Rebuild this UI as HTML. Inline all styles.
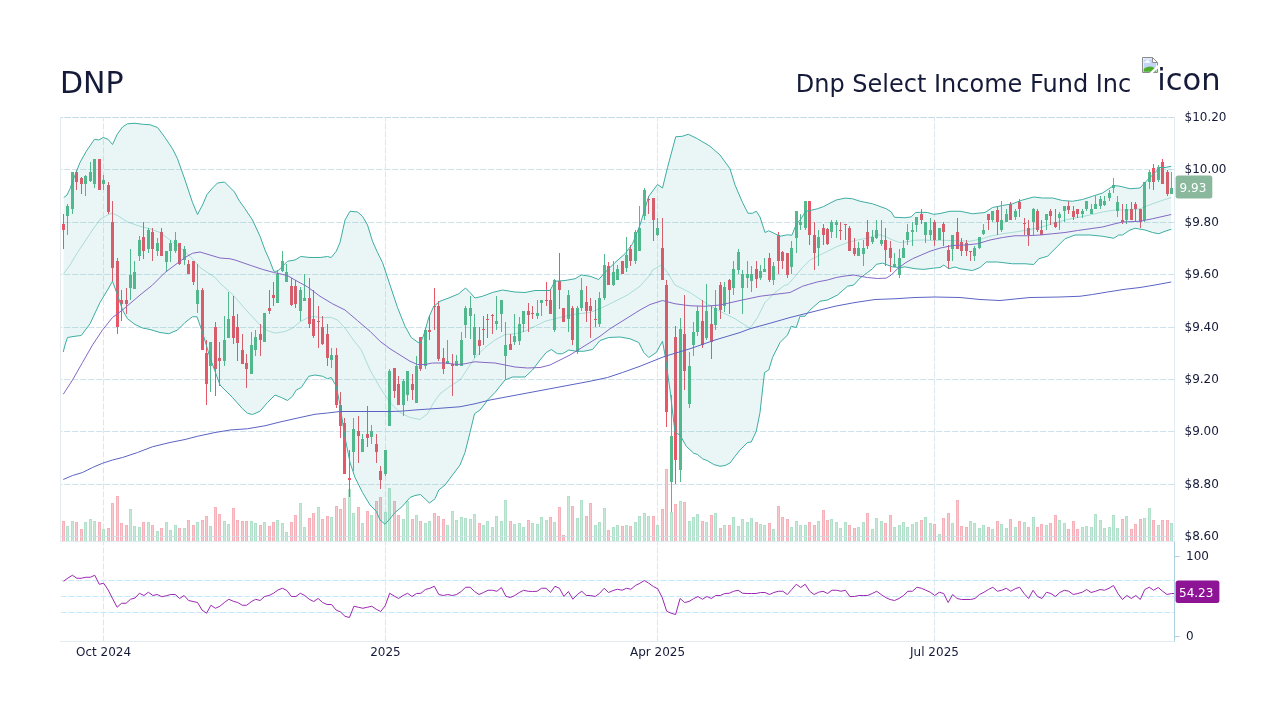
<!DOCTYPE html>
<html lang="en"><head><meta charset="utf-8"><title>DNP</title>
<style>
html,body{margin:0;padding:0;background:#fff;}
body{width:1280px;height:720px;position:relative;overflow:hidden;font-family:"DejaVu Sans","Liberation Sans",sans-serif;color:#151a38;}
#bi{position:absolute;left:1142px;top:57px;}
#wrap{position:absolute;left:0;top:0;width:1280px;height:720px;will-change:transform;}
svg text{font-family:"DejaVu Sans","Liberation Sans",sans-serif;font-size:12px;fill:#151a38;}
</style></head><body><div id="wrap">
<svg id="bi" width="17" height="17" viewBox="0 0 17 17">
<path d="M0.5 0.5 H10.5 L15.5 5.5 V15.5 H0.5 Z" fill="#fff" stroke="#8c8c8c"/>
<path d="M1.6 1.6 H10 V6 H14.4 V14.8 H1.6 Z" fill="#c3d5f6"/>
<path d="M1.7 1.7 H10 V3 H1.7 Z" fill="#dbe6fa"/>
<path d="M2.2 5.7 Q2.1 4.7 3.5 4.5 Q4.2 2.9 5.6 2.9 Q6.9 3 7.3 4.3 Q8.3 4.5 8.1 5.7 Z" fill="#fff"/>
<clipPath id="cp"><rect x="1.6" y="1.6" width="12.8" height="13.2"/></clipPath><ellipse cx="7.9" cy="15.6" rx="7.4" ry="6.1" fill="#4fae2e" clip-path="url(#cp)"/>
<path d="M10.5 0.5 L15.5 5.5 H10.5 Z" fill="#fff"/>
<path d="M10.5 0.5 V5.5 H15.5 M10.5 0.5 L15.5 5.5" fill="none" stroke="#8c8c8c"/>
<path d="M6.9 16.4 L16.4 7.5 V11 L10.3 16.4 Z" fill="#fff"/>
</svg>
<svg width="1280" height="720" viewBox="0 0 1280 720" style="position:absolute;left:0;top:0">
<text x="60" y="92.75" style="font-size:30px">DNP</text>
<text x="795.8" y="91.9" style="font-size:24px">Dnp Select Income Fund Inc</text>
<text x="1157.3" y="89.9" style="font-size:30.5px">icon</text>

<g stroke="#cfe2eb" stroke-width="1" stroke-dasharray="6.2 1.8" stroke-dashoffset="4.8" fill="none">
<path d="M61 117.5 H1174" stroke="#c6dce7" stroke-dasharray="6.8 1.2"/>
<path d="M61 169.5 H1174"/>
<path d="M61 222.5 H1174"/>
<path d="M61 274.5 H1174"/>
<path d="M61 327.5 H1174"/>
<path d="M61 379.5 H1174"/>
<path d="M61 431.5 H1174"/>
<path d="M61 484.5 H1174"/>
<path d="M61 536.5 H1174"/>
</g>
<g stroke="#d9e7ee" stroke-width="1" stroke-dasharray="6 2" stroke-dashoffset="1.6" fill="none">
<path d="M103.5 117 V641"/>
<path d="M385.5 117 V641"/>
<path d="M657.5 117 V641"/>
<path d="M934.5 117 V641"/>
</g>
<g shape-rendering="crispEdges">
<rect x="62" y="521" width="3" height="20" fill="#f5b2ba"/><rect x="63" y="522" width="1" height="19" fill="#f8c8cd"/>
<rect x="66" y="526" width="3" height="15" fill="#b2e1cb"/><rect x="67" y="527" width="1" height="14" fill="#c8e8d8"/>
<rect x="71" y="521" width="3" height="20" fill="#b2e1cb"/><rect x="72" y="522" width="1" height="19" fill="#c8e8d8"/>
<rect x="75" y="522" width="3" height="19" fill="#f5b2ba"/><rect x="76" y="523" width="1" height="18" fill="#f8c8cd"/>
<rect x="80" y="529" width="3" height="12" fill="#f5b2ba"/><rect x="81" y="530" width="1" height="11" fill="#f8c8cd"/>
<rect x="84" y="522" width="3" height="19" fill="#b2e1cb"/><rect x="85" y="523" width="1" height="18" fill="#c8e8d8"/>
<rect x="89" y="519" width="3" height="22" fill="#b2e1cb"/><rect x="90" y="520" width="1" height="21" fill="#c8e8d8"/>
<rect x="93" y="521" width="3" height="20" fill="#b2e1cb"/><rect x="94" y="522" width="1" height="19" fill="#c8e8d8"/>
<rect x="98" y="522" width="3" height="19" fill="#f5b2ba"/><rect x="99" y="523" width="1" height="18" fill="#f8c8cd"/>
<rect x="102" y="529" width="3" height="12" fill="#b2e1cb"/><rect x="103" y="530" width="1" height="11" fill="#c8e8d8"/>
<rect x="107" y="528" width="3" height="13" fill="#f5b2ba"/><rect x="108" y="529" width="1" height="12" fill="#f8c8cd"/>
<rect x="111" y="503" width="3" height="38" fill="#f5b2ba"/><rect x="112" y="504" width="1" height="37" fill="#f8c8cd"/>
<rect x="116" y="496" width="3" height="45" fill="#f5b2ba"/><rect x="117" y="497" width="1" height="44" fill="#f8c8cd"/>
<rect x="120" y="523" width="3" height="18" fill="#f5b2ba"/><rect x="121" y="524" width="1" height="17" fill="#f8c8cd"/>
<rect x="125" y="525" width="3" height="16" fill="#f5b2ba"/><rect x="126" y="526" width="1" height="15" fill="#f8c8cd"/>
<rect x="129" y="509" width="3" height="32" fill="#b2e1cb"/><rect x="130" y="510" width="1" height="31" fill="#c8e8d8"/>
<rect x="133" y="526" width="3" height="15" fill="#b2e1cb"/><rect x="134" y="527" width="1" height="14" fill="#c8e8d8"/>
<rect x="138" y="527" width="3" height="14" fill="#b2e1cb"/><rect x="139" y="528" width="1" height="13" fill="#c8e8d8"/>
<rect x="142" y="522" width="3" height="19" fill="#f5b2ba"/><rect x="143" y="523" width="1" height="18" fill="#f8c8cd"/>
<rect x="147" y="522" width="3" height="19" fill="#b2e1cb"/><rect x="148" y="523" width="1" height="18" fill="#c8e8d8"/>
<rect x="151" y="525" width="3" height="16" fill="#f5b2ba"/><rect x="152" y="526" width="1" height="15" fill="#f8c8cd"/>
<rect x="156" y="531" width="3" height="10" fill="#b2e1cb"/><rect x="157" y="532" width="1" height="9" fill="#c8e8d8"/>
<rect x="160" y="528" width="3" height="13" fill="#f5b2ba"/><rect x="161" y="529" width="1" height="12" fill="#f8c8cd"/>
<rect x="165" y="522" width="3" height="19" fill="#b2e1cb"/><rect x="166" y="523" width="1" height="18" fill="#c8e8d8"/>
<rect x="169" y="530" width="3" height="11" fill="#b2e1cb"/><rect x="170" y="531" width="1" height="10" fill="#c8e8d8"/>
<rect x="174" y="525" width="3" height="16" fill="#b2e1cb"/><rect x="175" y="526" width="1" height="15" fill="#c8e8d8"/>
<rect x="178" y="528" width="3" height="13" fill="#f5b2ba"/><rect x="179" y="529" width="1" height="12" fill="#f8c8cd"/>
<rect x="183" y="528" width="3" height="13" fill="#b2e1cb"/><rect x="184" y="529" width="1" height="12" fill="#c8e8d8"/>
<rect x="187" y="520" width="3" height="21" fill="#f5b2ba"/><rect x="188" y="521" width="1" height="20" fill="#f8c8cd"/>
<rect x="192" y="525" width="3" height="16" fill="#f5b2ba"/><rect x="193" y="526" width="1" height="15" fill="#f8c8cd"/>
<rect x="196" y="522" width="3" height="19" fill="#b2e1cb"/><rect x="197" y="523" width="1" height="18" fill="#c8e8d8"/>
<rect x="201" y="520" width="3" height="21" fill="#f5b2ba"/><rect x="202" y="521" width="1" height="20" fill="#f8c8cd"/>
<rect x="205" y="516" width="3" height="25" fill="#f5b2ba"/><rect x="206" y="517" width="1" height="24" fill="#f8c8cd"/>
<rect x="209" y="526" width="3" height="15" fill="#b2e1cb"/><rect x="210" y="527" width="1" height="14" fill="#c8e8d8"/>
<rect x="214" y="507" width="3" height="34" fill="#f5b2ba"/><rect x="215" y="508" width="1" height="33" fill="#f8c8cd"/>
<rect x="218" y="514" width="3" height="27" fill="#f5b2ba"/><rect x="219" y="515" width="1" height="26" fill="#f8c8cd"/>
<rect x="223" y="521" width="3" height="20" fill="#b2e1cb"/><rect x="224" y="522" width="1" height="19" fill="#c8e8d8"/>
<rect x="227" y="524" width="3" height="17" fill="#b2e1cb"/><rect x="228" y="525" width="1" height="16" fill="#c8e8d8"/>
<rect x="232" y="508" width="3" height="33" fill="#f5b2ba"/><rect x="233" y="509" width="1" height="32" fill="#f8c8cd"/>
<rect x="236" y="520" width="3" height="21" fill="#f5b2ba"/><rect x="237" y="521" width="1" height="20" fill="#f8c8cd"/>
<rect x="241" y="521" width="3" height="20" fill="#f5b2ba"/><rect x="242" y="522" width="1" height="19" fill="#f8c8cd"/>
<rect x="245" y="521" width="3" height="20" fill="#f5b2ba"/><rect x="246" y="522" width="1" height="19" fill="#f8c8cd"/>
<rect x="250" y="521" width="3" height="20" fill="#b2e1cb"/><rect x="251" y="522" width="1" height="19" fill="#c8e8d8"/>
<rect x="254" y="523" width="3" height="18" fill="#b2e1cb"/><rect x="255" y="524" width="1" height="17" fill="#c8e8d8"/>
<rect x="259" y="525" width="3" height="16" fill="#f5b2ba"/><rect x="260" y="526" width="1" height="15" fill="#f8c8cd"/>
<rect x="263" y="522" width="3" height="19" fill="#b2e1cb"/><rect x="264" y="523" width="1" height="18" fill="#c8e8d8"/>
<rect x="268" y="526" width="3" height="15" fill="#f5b2ba"/><rect x="269" y="527" width="1" height="14" fill="#f8c8cd"/>
<rect x="272" y="522" width="3" height="19" fill="#f5b2ba"/><rect x="273" y="523" width="1" height="18" fill="#f8c8cd"/>
<rect x="276" y="520" width="3" height="21" fill="#b2e1cb"/><rect x="277" y="521" width="1" height="20" fill="#c8e8d8"/>
<rect x="281" y="523" width="3" height="18" fill="#b2e1cb"/><rect x="282" y="524" width="1" height="17" fill="#c8e8d8"/>
<rect x="285" y="532" width="3" height="9" fill="#b2e1cb"/><rect x="286" y="533" width="1" height="8" fill="#c8e8d8"/>
<rect x="290" y="522" width="3" height="19" fill="#f5b2ba"/><rect x="291" y="523" width="1" height="18" fill="#f8c8cd"/>
<rect x="294" y="515" width="3" height="26" fill="#f5b2ba"/><rect x="295" y="516" width="1" height="25" fill="#f8c8cd"/>
<rect x="299" y="503" width="3" height="38" fill="#b2e1cb"/><rect x="300" y="504" width="1" height="37" fill="#c8e8d8"/>
<rect x="303" y="527" width="3" height="14" fill="#b2e1cb"/><rect x="304" y="528" width="1" height="13" fill="#c8e8d8"/>
<rect x="308" y="518" width="3" height="23" fill="#f5b2ba"/><rect x="309" y="519" width="1" height="22" fill="#f8c8cd"/>
<rect x="312" y="513" width="3" height="28" fill="#f5b2ba"/><rect x="313" y="514" width="1" height="27" fill="#f8c8cd"/>
<rect x="317" y="507" width="3" height="34" fill="#b2e1cb"/><rect x="318" y="508" width="1" height="33" fill="#c8e8d8"/>
<rect x="321" y="519" width="3" height="22" fill="#f5b2ba"/><rect x="322" y="520" width="1" height="21" fill="#f8c8cd"/>
<rect x="326" y="516" width="3" height="25" fill="#f5b2ba"/><rect x="327" y="517" width="1" height="24" fill="#f8c8cd"/>
<rect x="330" y="517" width="3" height="24" fill="#b2e1cb"/><rect x="331" y="518" width="1" height="23" fill="#c8e8d8"/>
<rect x="335" y="506" width="3" height="35" fill="#f5b2ba"/><rect x="336" y="507" width="1" height="34" fill="#f8c8cd"/>
<rect x="339" y="509" width="3" height="32" fill="#f5b2ba"/><rect x="340" y="510" width="1" height="31" fill="#f8c8cd"/>
<rect x="343" y="498" width="3" height="43" fill="#f5b2ba"/><rect x="344" y="499" width="1" height="42" fill="#f8c8cd"/>
<rect x="348" y="489" width="3" height="52" fill="#b2e1cb"/><rect x="349" y="490" width="1" height="51" fill="#c8e8d8"/>
<rect x="352" y="513" width="3" height="28" fill="#b2e1cb"/><rect x="353" y="514" width="1" height="27" fill="#c8e8d8"/>
<rect x="357" y="507" width="3" height="34" fill="#f5b2ba"/><rect x="358" y="508" width="1" height="33" fill="#f8c8cd"/>
<rect x="361" y="523" width="3" height="18" fill="#b2e1cb"/><rect x="362" y="524" width="1" height="17" fill="#c8e8d8"/>
<rect x="366" y="511" width="3" height="30" fill="#f5b2ba"/><rect x="367" y="512" width="1" height="29" fill="#f8c8cd"/>
<rect x="370" y="515" width="3" height="26" fill="#b2e1cb"/><rect x="371" y="516" width="1" height="25" fill="#c8e8d8"/>
<rect x="375" y="501" width="3" height="40" fill="#f5b2ba"/><rect x="376" y="502" width="1" height="39" fill="#f8c8cd"/>
<rect x="379" y="497" width="3" height="44" fill="#f5b2ba"/><rect x="380" y="498" width="1" height="43" fill="#f8c8cd"/>
<rect x="384" y="512" width="3" height="29" fill="#b2e1cb"/><rect x="385" y="513" width="1" height="28" fill="#c8e8d8"/>
<rect x="388" y="488" width="3" height="53" fill="#b2e1cb"/><rect x="389" y="489" width="1" height="52" fill="#c8e8d8"/>
<rect x="393" y="501" width="3" height="40" fill="#f5b2ba"/><rect x="394" y="502" width="1" height="39" fill="#f8c8cd"/>
<rect x="397" y="515" width="3" height="26" fill="#f5b2ba"/><rect x="398" y="516" width="1" height="25" fill="#f8c8cd"/>
<rect x="402" y="519" width="3" height="22" fill="#b2e1cb"/><rect x="403" y="520" width="1" height="21" fill="#c8e8d8"/>
<rect x="406" y="501" width="3" height="40" fill="#b2e1cb"/><rect x="407" y="502" width="1" height="39" fill="#c8e8d8"/>
<rect x="411" y="519" width="3" height="22" fill="#f5b2ba"/><rect x="412" y="520" width="1" height="21" fill="#f8c8cd"/>
<rect x="415" y="515" width="3" height="26" fill="#b2e1cb"/><rect x="416" y="516" width="1" height="25" fill="#c8e8d8"/>
<rect x="419" y="521" width="3" height="20" fill="#f5b2ba"/><rect x="420" y="522" width="1" height="19" fill="#f8c8cd"/>
<rect x="424" y="523" width="3" height="18" fill="#b2e1cb"/><rect x="425" y="524" width="1" height="17" fill="#c8e8d8"/>
<rect x="428" y="521" width="3" height="20" fill="#b2e1cb"/><rect x="429" y="522" width="1" height="19" fill="#c8e8d8"/>
<rect x="433" y="513" width="3" height="28" fill="#f5b2ba"/><rect x="434" y="514" width="1" height="27" fill="#f8c8cd"/>
<rect x="437" y="516" width="3" height="25" fill="#f5b2ba"/><rect x="438" y="517" width="1" height="24" fill="#f8c8cd"/>
<rect x="442" y="519" width="3" height="22" fill="#f5b2ba"/><rect x="443" y="520" width="1" height="21" fill="#f8c8cd"/>
<rect x="446" y="525" width="3" height="16" fill="#b2e1cb"/><rect x="447" y="526" width="1" height="15" fill="#c8e8d8"/>
<rect x="451" y="511" width="3" height="30" fill="#b2e1cb"/><rect x="452" y="512" width="1" height="29" fill="#c8e8d8"/>
<rect x="455" y="520" width="3" height="21" fill="#b2e1cb"/><rect x="456" y="521" width="1" height="20" fill="#c8e8d8"/>
<rect x="460" y="517" width="3" height="24" fill="#b2e1cb"/><rect x="461" y="518" width="1" height="23" fill="#c8e8d8"/>
<rect x="464" y="518" width="3" height="23" fill="#b2e1cb"/><rect x="465" y="519" width="1" height="22" fill="#c8e8d8"/>
<rect x="469" y="519" width="3" height="22" fill="#b2e1cb"/><rect x="470" y="520" width="1" height="21" fill="#c8e8d8"/>
<rect x="473" y="514" width="3" height="27" fill="#b2e1cb"/><rect x="474" y="515" width="1" height="26" fill="#c8e8d8"/>
<rect x="478" y="523" width="3" height="18" fill="#f5b2ba"/><rect x="479" y="524" width="1" height="17" fill="#f8c8cd"/>
<rect x="482" y="525" width="3" height="16" fill="#b2e1cb"/><rect x="483" y="526" width="1" height="15" fill="#c8e8d8"/>
<rect x="486" y="521" width="3" height="20" fill="#b2e1cb"/><rect x="487" y="522" width="1" height="19" fill="#c8e8d8"/>
<rect x="491" y="527" width="3" height="14" fill="#b2e1cb"/><rect x="492" y="528" width="1" height="13" fill="#c8e8d8"/>
<rect x="495" y="516" width="3" height="25" fill="#b2e1cb"/><rect x="496" y="517" width="1" height="24" fill="#c8e8d8"/>
<rect x="500" y="521" width="3" height="20" fill="#b2e1cb"/><rect x="501" y="522" width="1" height="19" fill="#c8e8d8"/>
<rect x="504" y="500" width="3" height="41" fill="#b2e1cb"/><rect x="505" y="501" width="1" height="40" fill="#c8e8d8"/>
<rect x="509" y="521" width="3" height="20" fill="#f5b2ba"/><rect x="510" y="522" width="1" height="19" fill="#f8c8cd"/>
<rect x="513" y="524" width="3" height="17" fill="#b2e1cb"/><rect x="514" y="525" width="1" height="16" fill="#c8e8d8"/>
<rect x="518" y="523" width="3" height="18" fill="#b2e1cb"/><rect x="519" y="524" width="1" height="17" fill="#c8e8d8"/>
<rect x="522" y="527" width="3" height="14" fill="#b2e1cb"/><rect x="523" y="528" width="1" height="13" fill="#c8e8d8"/>
<rect x="527" y="520" width="3" height="21" fill="#f5b2ba"/><rect x="528" y="521" width="1" height="20" fill="#f8c8cd"/>
<rect x="531" y="523" width="3" height="18" fill="#b2e1cb"/><rect x="532" y="524" width="1" height="17" fill="#c8e8d8"/>
<rect x="536" y="524" width="3" height="17" fill="#b2e1cb"/><rect x="537" y="525" width="1" height="16" fill="#c8e8d8"/>
<rect x="540" y="517" width="3" height="24" fill="#b2e1cb"/><rect x="541" y="518" width="1" height="23" fill="#c8e8d8"/>
<rect x="545" y="520" width="3" height="21" fill="#b2e1cb"/><rect x="546" y="521" width="1" height="20" fill="#c8e8d8"/>
<rect x="549" y="517" width="3" height="24" fill="#f5b2ba"/><rect x="550" y="518" width="1" height="23" fill="#f8c8cd"/>
<rect x="553" y="522" width="3" height="19" fill="#b2e1cb"/><rect x="554" y="523" width="1" height="18" fill="#c8e8d8"/>
<rect x="558" y="507" width="3" height="34" fill="#f5b2ba"/><rect x="559" y="508" width="1" height="33" fill="#f8c8cd"/>
<rect x="562" y="535" width="3" height="6" fill="#f5b2ba"/><rect x="563" y="536" width="1" height="5" fill="#f8c8cd"/>
<rect x="567" y="496" width="3" height="45" fill="#b2e1cb"/><rect x="568" y="497" width="1" height="44" fill="#c8e8d8"/>
<rect x="571" y="506" width="3" height="35" fill="#f5b2ba"/><rect x="572" y="507" width="1" height="34" fill="#f8c8cd"/>
<rect x="576" y="518" width="3" height="23" fill="#b2e1cb"/><rect x="577" y="519" width="1" height="22" fill="#c8e8d8"/>
<rect x="580" y="500" width="3" height="41" fill="#b2e1cb"/><rect x="581" y="501" width="1" height="40" fill="#c8e8d8"/>
<rect x="585" y="516" width="3" height="25" fill="#f5b2ba"/><rect x="586" y="517" width="1" height="24" fill="#f8c8cd"/>
<rect x="589" y="503" width="3" height="38" fill="#f5b2ba"/><rect x="590" y="504" width="1" height="37" fill="#f8c8cd"/>
<rect x="594" y="525" width="3" height="16" fill="#b2e1cb"/><rect x="595" y="526" width="1" height="15" fill="#c8e8d8"/>
<rect x="598" y="522" width="3" height="19" fill="#b2e1cb"/><rect x="599" y="523" width="1" height="18" fill="#c8e8d8"/>
<rect x="603" y="508" width="3" height="33" fill="#b2e1cb"/><rect x="604" y="509" width="1" height="32" fill="#c8e8d8"/>
<rect x="607" y="530" width="3" height="11" fill="#f5b2ba"/><rect x="608" y="531" width="1" height="10" fill="#f8c8cd"/>
<rect x="612" y="527" width="3" height="14" fill="#b2e1cb"/><rect x="613" y="528" width="1" height="13" fill="#c8e8d8"/>
<rect x="616" y="525" width="3" height="16" fill="#b2e1cb"/><rect x="617" y="526" width="1" height="15" fill="#c8e8d8"/>
<rect x="621" y="526" width="3" height="15" fill="#f5b2ba"/><rect x="622" y="527" width="1" height="14" fill="#f8c8cd"/>
<rect x="625" y="525" width="3" height="16" fill="#b2e1cb"/><rect x="626" y="526" width="1" height="15" fill="#c8e8d8"/>
<rect x="629" y="526" width="3" height="15" fill="#f5b2ba"/><rect x="630" y="527" width="1" height="14" fill="#f8c8cd"/>
<rect x="634" y="522" width="3" height="19" fill="#b2e1cb"/><rect x="635" y="523" width="1" height="18" fill="#c8e8d8"/>
<rect x="638" y="516" width="3" height="25" fill="#b2e1cb"/><rect x="639" y="517" width="1" height="24" fill="#c8e8d8"/>
<rect x="643" y="513" width="3" height="28" fill="#b2e1cb"/><rect x="644" y="514" width="1" height="27" fill="#c8e8d8"/>
<rect x="647" y="516" width="3" height="25" fill="#b2e1cb"/><rect x="648" y="517" width="1" height="24" fill="#c8e8d8"/>
<rect x="652" y="516" width="3" height="25" fill="#f5b2ba"/><rect x="653" y="517" width="1" height="24" fill="#f8c8cd"/>
<rect x="656" y="525" width="3" height="16" fill="#b2e1cb"/><rect x="657" y="526" width="1" height="15" fill="#c8e8d8"/>
<rect x="661" y="509" width="3" height="32" fill="#f5b2ba"/><rect x="662" y="510" width="1" height="31" fill="#f8c8cd"/>
<rect x="665" y="469" width="3" height="72" fill="#f5b2ba"/><rect x="666" y="470" width="1" height="71" fill="#f8c8cd"/>
<rect x="670" y="512" width="3" height="29" fill="#b2e1cb"/><rect x="671" y="513" width="1" height="28" fill="#c8e8d8"/>
<rect x="674" y="504" width="3" height="37" fill="#f5b2ba"/><rect x="675" y="505" width="1" height="36" fill="#f8c8cd"/>
<rect x="679" y="501" width="3" height="40" fill="#b2e1cb"/><rect x="680" y="502" width="1" height="39" fill="#c8e8d8"/>
<rect x="683" y="502" width="3" height="39" fill="#f5b2ba"/><rect x="684" y="503" width="1" height="38" fill="#f8c8cd"/>
<rect x="688" y="521" width="3" height="20" fill="#b2e1cb"/><rect x="689" y="522" width="1" height="19" fill="#c8e8d8"/>
<rect x="692" y="517" width="3" height="24" fill="#b2e1cb"/><rect x="693" y="518" width="1" height="23" fill="#c8e8d8"/>
<rect x="696" y="514" width="3" height="27" fill="#b2e1cb"/><rect x="697" y="515" width="1" height="26" fill="#c8e8d8"/>
<rect x="701" y="521" width="3" height="20" fill="#f5b2ba"/><rect x="702" y="522" width="1" height="19" fill="#f8c8cd"/>
<rect x="705" y="522" width="3" height="19" fill="#b2e1cb"/><rect x="706" y="523" width="1" height="18" fill="#c8e8d8"/>
<rect x="710" y="515" width="3" height="26" fill="#f5b2ba"/><rect x="711" y="516" width="1" height="25" fill="#f8c8cd"/>
<rect x="714" y="513" width="3" height="28" fill="#b2e1cb"/><rect x="715" y="514" width="1" height="27" fill="#c8e8d8"/>
<rect x="719" y="528" width="3" height="13" fill="#f5b2ba"/><rect x="720" y="529" width="1" height="12" fill="#f8c8cd"/>
<rect x="723" y="525" width="3" height="16" fill="#b2e1cb"/><rect x="724" y="526" width="1" height="15" fill="#c8e8d8"/>
<rect x="728" y="525" width="3" height="16" fill="#f5b2ba"/><rect x="729" y="526" width="1" height="15" fill="#f8c8cd"/>
<rect x="732" y="517" width="3" height="24" fill="#b2e1cb"/><rect x="733" y="518" width="1" height="23" fill="#c8e8d8"/>
<rect x="737" y="526" width="3" height="15" fill="#b2e1cb"/><rect x="738" y="527" width="1" height="14" fill="#c8e8d8"/>
<rect x="741" y="519" width="3" height="22" fill="#b2e1cb"/><rect x="742" y="520" width="1" height="21" fill="#c8e8d8"/>
<rect x="746" y="522" width="3" height="19" fill="#b2e1cb"/><rect x="747" y="523" width="1" height="18" fill="#c8e8d8"/>
<rect x="750" y="518" width="3" height="23" fill="#b2e1cb"/><rect x="751" y="519" width="1" height="22" fill="#c8e8d8"/>
<rect x="755" y="522" width="3" height="19" fill="#f5b2ba"/><rect x="756" y="523" width="1" height="18" fill="#f8c8cd"/>
<rect x="759" y="524" width="3" height="17" fill="#b2e1cb"/><rect x="760" y="525" width="1" height="16" fill="#c8e8d8"/>
<rect x="763" y="525" width="3" height="16" fill="#b2e1cb"/><rect x="764" y="526" width="1" height="15" fill="#c8e8d8"/>
<rect x="768" y="523" width="3" height="18" fill="#f5b2ba"/><rect x="769" y="524" width="1" height="17" fill="#f8c8cd"/>
<rect x="772" y="529" width="3" height="12" fill="#b2e1cb"/><rect x="773" y="530" width="1" height="11" fill="#c8e8d8"/>
<rect x="777" y="506" width="3" height="35" fill="#f5b2ba"/><rect x="778" y="507" width="1" height="34" fill="#f8c8cd"/>
<rect x="781" y="517" width="3" height="24" fill="#f5b2ba"/><rect x="782" y="518" width="1" height="23" fill="#f8c8cd"/>
<rect x="786" y="519" width="3" height="22" fill="#f5b2ba"/><rect x="787" y="520" width="1" height="21" fill="#f8c8cd"/>
<rect x="790" y="527" width="3" height="14" fill="#b2e1cb"/><rect x="791" y="528" width="1" height="13" fill="#c8e8d8"/>
<rect x="795" y="521" width="3" height="20" fill="#b2e1cb"/><rect x="796" y="522" width="1" height="19" fill="#c8e8d8"/>
<rect x="799" y="525" width="3" height="16" fill="#b2e1cb"/><rect x="800" y="526" width="1" height="15" fill="#c8e8d8"/>
<rect x="804" y="525" width="3" height="16" fill="#b2e1cb"/><rect x="805" y="526" width="1" height="15" fill="#c8e8d8"/>
<rect x="808" y="522" width="3" height="19" fill="#f5b2ba"/><rect x="809" y="523" width="1" height="18" fill="#f8c8cd"/>
<rect x="813" y="525" width="3" height="16" fill="#f5b2ba"/><rect x="814" y="526" width="1" height="15" fill="#f8c8cd"/>
<rect x="817" y="521" width="3" height="20" fill="#b2e1cb"/><rect x="818" y="522" width="1" height="19" fill="#c8e8d8"/>
<rect x="822" y="510" width="3" height="31" fill="#f5b2ba"/><rect x="823" y="511" width="1" height="30" fill="#f8c8cd"/>
<rect x="826" y="520" width="3" height="21" fill="#f5b2ba"/><rect x="827" y="521" width="1" height="20" fill="#f8c8cd"/>
<rect x="830" y="519" width="3" height="22" fill="#b2e1cb"/><rect x="831" y="520" width="1" height="21" fill="#c8e8d8"/>
<rect x="835" y="522" width="3" height="19" fill="#b2e1cb"/><rect x="836" y="523" width="1" height="18" fill="#c8e8d8"/>
<rect x="839" y="528" width="3" height="13" fill="#b2e1cb"/><rect x="840" y="529" width="1" height="12" fill="#c8e8d8"/>
<rect x="844" y="522" width="3" height="19" fill="#b2e1cb"/><rect x="845" y="523" width="1" height="18" fill="#c8e8d8"/>
<rect x="848" y="525" width="3" height="16" fill="#f5b2ba"/><rect x="849" y="526" width="1" height="15" fill="#f8c8cd"/>
<rect x="853" y="528" width="3" height="13" fill="#f5b2ba"/><rect x="854" y="529" width="1" height="12" fill="#f8c8cd"/>
<rect x="857" y="527" width="3" height="14" fill="#b2e1cb"/><rect x="858" y="528" width="1" height="13" fill="#c8e8d8"/>
<rect x="862" y="522" width="3" height="19" fill="#b2e1cb"/><rect x="863" y="523" width="1" height="18" fill="#c8e8d8"/>
<rect x="866" y="513" width="3" height="28" fill="#f5b2ba"/><rect x="867" y="514" width="1" height="27" fill="#f8c8cd"/>
<rect x="871" y="529" width="3" height="12" fill="#b2e1cb"/><rect x="872" y="530" width="1" height="11" fill="#c8e8d8"/>
<rect x="875" y="518" width="3" height="23" fill="#b2e1cb"/><rect x="876" y="519" width="1" height="22" fill="#c8e8d8"/>
<rect x="880" y="521" width="3" height="20" fill="#b2e1cb"/><rect x="881" y="522" width="1" height="19" fill="#c8e8d8"/>
<rect x="884" y="523" width="3" height="18" fill="#f5b2ba"/><rect x="885" y="524" width="1" height="17" fill="#f8c8cd"/>
<rect x="889" y="515" width="3" height="26" fill="#f5b2ba"/><rect x="890" y="516" width="1" height="25" fill="#f8c8cd"/>
<rect x="893" y="527" width="3" height="14" fill="#b2e1cb"/><rect x="894" y="528" width="1" height="13" fill="#c8e8d8"/>
<rect x="898" y="525" width="3" height="16" fill="#b2e1cb"/><rect x="899" y="526" width="1" height="15" fill="#c8e8d8"/>
<rect x="902" y="522" width="3" height="19" fill="#b2e1cb"/><rect x="903" y="523" width="1" height="18" fill="#c8e8d8"/>
<rect x="906" y="527" width="3" height="14" fill="#b2e1cb"/><rect x="907" y="528" width="1" height="13" fill="#c8e8d8"/>
<rect x="911" y="524" width="3" height="17" fill="#b2e1cb"/><rect x="912" y="525" width="1" height="16" fill="#c8e8d8"/>
<rect x="915" y="522" width="3" height="19" fill="#b2e1cb"/><rect x="916" y="523" width="1" height="18" fill="#c8e8d8"/>
<rect x="920" y="520" width="3" height="21" fill="#f5b2ba"/><rect x="921" y="521" width="1" height="20" fill="#f8c8cd"/>
<rect x="924" y="517" width="3" height="24" fill="#b2e1cb"/><rect x="925" y="518" width="1" height="23" fill="#c8e8d8"/>
<rect x="929" y="523" width="3" height="18" fill="#b2e1cb"/><rect x="930" y="524" width="1" height="17" fill="#c8e8d8"/>
<rect x="933" y="524" width="3" height="17" fill="#f5b2ba"/><rect x="934" y="525" width="1" height="16" fill="#f8c8cd"/>
<rect x="938" y="534" width="3" height="7" fill="#b2e1cb"/><rect x="939" y="535" width="1" height="6" fill="#c8e8d8"/>
<rect x="942" y="518" width="3" height="23" fill="#f5b2ba"/><rect x="943" y="519" width="1" height="22" fill="#f8c8cd"/>
<rect x="947" y="513" width="3" height="28" fill="#f5b2ba"/><rect x="948" y="514" width="1" height="27" fill="#f8c8cd"/>
<rect x="951" y="523" width="3" height="18" fill="#b2e1cb"/><rect x="952" y="524" width="1" height="17" fill="#c8e8d8"/>
<rect x="956" y="500" width="3" height="41" fill="#f5b2ba"/><rect x="957" y="501" width="1" height="40" fill="#f8c8cd"/>
<rect x="960" y="526" width="3" height="15" fill="#f5b2ba"/><rect x="961" y="527" width="1" height="14" fill="#f8c8cd"/>
<rect x="965" y="527" width="3" height="14" fill="#f5b2ba"/><rect x="966" y="528" width="1" height="13" fill="#f8c8cd"/>
<rect x="969" y="521" width="3" height="20" fill="#b2e1cb"/><rect x="970" y="522" width="1" height="19" fill="#c8e8d8"/>
<rect x="973" y="523" width="3" height="18" fill="#b2e1cb"/><rect x="974" y="524" width="1" height="17" fill="#c8e8d8"/>
<rect x="978" y="528" width="3" height="13" fill="#b2e1cb"/><rect x="979" y="529" width="1" height="12" fill="#c8e8d8"/>
<rect x="982" y="525" width="3" height="16" fill="#b2e1cb"/><rect x="983" y="526" width="1" height="15" fill="#c8e8d8"/>
<rect x="987" y="527" width="3" height="14" fill="#f5b2ba"/><rect x="988" y="528" width="1" height="13" fill="#f8c8cd"/>
<rect x="991" y="529" width="3" height="12" fill="#b2e1cb"/><rect x="992" y="530" width="1" height="11" fill="#c8e8d8"/>
<rect x="996" y="521" width="3" height="20" fill="#f5b2ba"/><rect x="997" y="522" width="1" height="19" fill="#f8c8cd"/>
<rect x="1000" y="524" width="3" height="17" fill="#b2e1cb"/><rect x="1001" y="525" width="1" height="16" fill="#c8e8d8"/>
<rect x="1005" y="528" width="3" height="13" fill="#b2e1cb"/><rect x="1006" y="529" width="1" height="12" fill="#c8e8d8"/>
<rect x="1009" y="519" width="3" height="22" fill="#f5b2ba"/><rect x="1010" y="520" width="1" height="21" fill="#f8c8cd"/>
<rect x="1014" y="527" width="3" height="14" fill="#b2e1cb"/><rect x="1015" y="528" width="1" height="13" fill="#c8e8d8"/>
<rect x="1018" y="521" width="3" height="20" fill="#f5b2ba"/><rect x="1019" y="522" width="1" height="19" fill="#f8c8cd"/>
<rect x="1023" y="522" width="3" height="19" fill="#b2e1cb"/><rect x="1024" y="523" width="1" height="18" fill="#c8e8d8"/>
<rect x="1027" y="527" width="3" height="14" fill="#f5b2ba"/><rect x="1028" y="528" width="1" height="13" fill="#f8c8cd"/>
<rect x="1032" y="517" width="3" height="24" fill="#b2e1cb"/><rect x="1033" y="518" width="1" height="23" fill="#c8e8d8"/>
<rect x="1036" y="527" width="3" height="14" fill="#f5b2ba"/><rect x="1037" y="528" width="1" height="13" fill="#f8c8cd"/>
<rect x="1040" y="524" width="3" height="17" fill="#f5b2ba"/><rect x="1041" y="525" width="1" height="16" fill="#f8c8cd"/>
<rect x="1045" y="525" width="3" height="16" fill="#b2e1cb"/><rect x="1046" y="526" width="1" height="15" fill="#c8e8d8"/>
<rect x="1049" y="523" width="3" height="18" fill="#f5b2ba"/><rect x="1050" y="524" width="1" height="17" fill="#f8c8cd"/>
<rect x="1054" y="515" width="3" height="26" fill="#f5b2ba"/><rect x="1055" y="516" width="1" height="25" fill="#f8c8cd"/>
<rect x="1058" y="520" width="3" height="21" fill="#b2e1cb"/><rect x="1059" y="521" width="1" height="20" fill="#c8e8d8"/>
<rect x="1063" y="523" width="3" height="18" fill="#b2e1cb"/><rect x="1064" y="524" width="1" height="17" fill="#c8e8d8"/>
<rect x="1067" y="529" width="3" height="12" fill="#f5b2ba"/><rect x="1068" y="530" width="1" height="11" fill="#f8c8cd"/>
<rect x="1072" y="521" width="3" height="20" fill="#f5b2ba"/><rect x="1073" y="522" width="1" height="19" fill="#f8c8cd"/>
<rect x="1076" y="529" width="3" height="12" fill="#f5b2ba"/><rect x="1077" y="530" width="1" height="11" fill="#f8c8cd"/>
<rect x="1081" y="527" width="3" height="14" fill="#b2e1cb"/><rect x="1082" y="528" width="1" height="13" fill="#c8e8d8"/>
<rect x="1085" y="526" width="3" height="15" fill="#b2e1cb"/><rect x="1086" y="527" width="1" height="14" fill="#c8e8d8"/>
<rect x="1090" y="527" width="3" height="14" fill="#b2e1cb"/><rect x="1091" y="528" width="1" height="13" fill="#c8e8d8"/>
<rect x="1094" y="514" width="3" height="27" fill="#b2e1cb"/><rect x="1095" y="515" width="1" height="26" fill="#c8e8d8"/>
<rect x="1099" y="520" width="3" height="21" fill="#b2e1cb"/><rect x="1100" y="521" width="1" height="20" fill="#c8e8d8"/>
<rect x="1103" y="528" width="3" height="13" fill="#b2e1cb"/><rect x="1104" y="529" width="1" height="12" fill="#c8e8d8"/>
<rect x="1108" y="527" width="3" height="14" fill="#b2e1cb"/><rect x="1109" y="528" width="1" height="13" fill="#c8e8d8"/>
<rect x="1112" y="515" width="3" height="26" fill="#b2e1cb"/><rect x="1113" y="516" width="1" height="25" fill="#c8e8d8"/>
<rect x="1116" y="528" width="3" height="13" fill="#b2e1cb"/><rect x="1117" y="529" width="1" height="12" fill="#c8e8d8"/>
<rect x="1121" y="519" width="3" height="22" fill="#f5b2ba"/><rect x="1122" y="520" width="1" height="21" fill="#f8c8cd"/>
<rect x="1125" y="516" width="3" height="25" fill="#b2e1cb"/><rect x="1126" y="517" width="1" height="24" fill="#c8e8d8"/>
<rect x="1130" y="529" width="3" height="12" fill="#f5b2ba"/><rect x="1131" y="530" width="1" height="11" fill="#f8c8cd"/>
<rect x="1134" y="524" width="3" height="17" fill="#f5b2ba"/><rect x="1135" y="525" width="1" height="16" fill="#f8c8cd"/>
<rect x="1139" y="519" width="3" height="22" fill="#f5b2ba"/><rect x="1140" y="520" width="1" height="21" fill="#f8c8cd"/>
<rect x="1143" y="518" width="3" height="23" fill="#b2e1cb"/><rect x="1144" y="519" width="1" height="22" fill="#c8e8d8"/>
<rect x="1148" y="508" width="3" height="33" fill="#b2e1cb"/><rect x="1149" y="509" width="1" height="32" fill="#c8e8d8"/>
<rect x="1152" y="520" width="3" height="21" fill="#f5b2ba"/><rect x="1153" y="521" width="1" height="20" fill="#f8c8cd"/>
<rect x="1157" y="525" width="3" height="16" fill="#b2e1cb"/><rect x="1158" y="526" width="1" height="15" fill="#c8e8d8"/>
<rect x="1161" y="520" width="3" height="21" fill="#f5b2ba"/><rect x="1162" y="521" width="1" height="20" fill="#f8c8cd"/>
<rect x="1166" y="520" width="3" height="21" fill="#f5b2ba"/><rect x="1167" y="521" width="1" height="20" fill="#f8c8cd"/>
<rect x="1170" y="523" width="3" height="18" fill="#b2e1cb"/><rect x="1171" y="524" width="1" height="17" fill="#c8e8d8"/>
</g>
<path d="M61 536.5 H1174" stroke="#cfe2eb" stroke-width="1" stroke-dasharray="6.2 1.8" stroke-dashoffset="4.8" opacity="0.85"/>
<g shape-rendering="crispEdges">
<rect x="63" y="214" width="1" height="35" fill="#e95667"/><rect x="62" y="224" width="3" height="6" fill="#e95667"/>
<rect x="67" y="204" width="1" height="31" fill="#56b98b"/><rect x="66" y="206" width="3" height="10" fill="#56b98b"/>
<rect x="72" y="172" width="1" height="42" fill="#56b98b"/><rect x="71" y="172" width="3" height="37" fill="#56b98b"/>
<rect x="76" y="170" width="1" height="20" fill="#e95667"/><rect x="75" y="172" width="3" height="10" fill="#e95667"/>
<rect x="81" y="177" width="1" height="17" fill="#e95667"/><rect x="80" y="178" width="3" height="6" fill="#e95667"/>
<rect x="85" y="175" width="1" height="21" fill="#56b98b"/><rect x="84" y="176" width="3" height="8" fill="#56b98b"/>
<rect x="90" y="162" width="1" height="20" fill="#56b98b"/><rect x="89" y="172" width="3" height="9" fill="#56b98b"/>
<rect x="94" y="159" width="1" height="29" fill="#56b98b"/><rect x="93" y="159" width="3" height="25" fill="#56b98b"/>
<rect x="99" y="159" width="1" height="31" fill="#e95667"/><rect x="98" y="159" width="3" height="31" fill="#e95667"/>
<rect x="103" y="175" width="1" height="15" fill="#56b98b"/><rect x="102" y="180" width="3" height="4" fill="#56b98b"/>
<rect x="108" y="182" width="1" height="32" fill="#e95667"/><rect x="107" y="185" width="3" height="27" fill="#e95667"/>
<rect x="112" y="201" width="1" height="80" fill="#e95667"/><rect x="111" y="222" width="3" height="46" fill="#e95667"/>
<rect x="117" y="258" width="1" height="76" fill="#e95667"/><rect x="116" y="261" width="3" height="66" fill="#e95667"/>
<rect x="121" y="290" width="1" height="31" fill="#e95667"/><rect x="120" y="300" width="3" height="4" fill="#e95667"/>
<rect x="126" y="288" width="1" height="26" fill="#e95667"/><rect x="125" y="300" width="3" height="4" fill="#e95667"/>
<rect x="130" y="249" width="1" height="51" fill="#56b98b"/><rect x="129" y="275" width="3" height="13" fill="#56b98b"/>
<rect x="134" y="261" width="1" height="28" fill="#56b98b"/><rect x="133" y="272" width="3" height="17" fill="#56b98b"/>
<rect x="139" y="236" width="1" height="25" fill="#56b98b"/><rect x="138" y="240" width="3" height="16" fill="#56b98b"/>
<rect x="143" y="222" width="1" height="37" fill="#e95667"/><rect x="142" y="237" width="3" height="14" fill="#e95667"/>
<rect x="148" y="228" width="1" height="25" fill="#56b98b"/><rect x="147" y="230" width="3" height="19" fill="#56b98b"/>
<rect x="152" y="228" width="1" height="33" fill="#e95667"/><rect x="151" y="232" width="3" height="17" fill="#e95667"/>
<rect x="157" y="238" width="1" height="18" fill="#56b98b"/><rect x="156" y="243" width="3" height="8" fill="#56b98b"/>
<rect x="161" y="228" width="1" height="28" fill="#e95667"/><rect x="160" y="232" width="3" height="24" fill="#e95667"/>
<rect x="166" y="251" width="1" height="21" fill="#56b98b"/><rect x="165" y="251" width="3" height="11" fill="#56b98b"/>
<rect x="170" y="240" width="1" height="22" fill="#56b98b"/><rect x="169" y="243" width="3" height="8" fill="#56b98b"/>
<rect x="175" y="232" width="1" height="21" fill="#56b98b"/><rect x="174" y="240" width="3" height="11" fill="#56b98b"/>
<rect x="179" y="243" width="1" height="22" fill="#e95667"/><rect x="178" y="243" width="3" height="21" fill="#e95667"/>
<rect x="184" y="246" width="1" height="19" fill="#56b98b"/><rect x="183" y="249" width="3" height="11" fill="#56b98b"/>
<rect x="188" y="260" width="1" height="14" fill="#e95667"/><rect x="187" y="264" width="3" height="10" fill="#e95667"/>
<rect x="193" y="261" width="1" height="24" fill="#e95667"/><rect x="192" y="261" width="3" height="21" fill="#e95667"/>
<rect x="197" y="264" width="1" height="49" fill="#56b98b"/><rect x="196" y="290" width="3" height="14" fill="#56b98b"/>
<rect x="202" y="288" width="1" height="62" fill="#e95667"/><rect x="201" y="290" width="3" height="60" fill="#e95667"/>
<rect x="206" y="340" width="1" height="65" fill="#e95667"/><rect x="205" y="353" width="3" height="31" fill="#e95667"/>
<rect x="210" y="342" width="1" height="50" fill="#56b98b"/><rect x="209" y="342" width="3" height="24" fill="#56b98b"/>
<rect x="215" y="322" width="1" height="74" fill="#e95667"/><rect x="214" y="327" width="3" height="42" fill="#e95667"/>
<rect x="219" y="342" width="1" height="44" fill="#e95667"/><rect x="218" y="358" width="3" height="3" fill="#e95667"/>
<rect x="224" y="316" width="1" height="50" fill="#56b98b"/><rect x="223" y="340" width="3" height="21" fill="#56b98b"/>
<rect x="228" y="292" width="1" height="46" fill="#56b98b"/><rect x="227" y="319" width="3" height="19" fill="#56b98b"/>
<rect x="233" y="296" width="1" height="48" fill="#e95667"/><rect x="232" y="316" width="3" height="22" fill="#e95667"/>
<rect x="237" y="314" width="1" height="47" fill="#e95667"/><rect x="236" y="327" width="3" height="16" fill="#e95667"/>
<rect x="242" y="334" width="1" height="30" fill="#e95667"/><rect x="241" y="350" width="3" height="14" fill="#e95667"/>
<rect x="246" y="354" width="1" height="34" fill="#e95667"/><rect x="245" y="363" width="3" height="6" fill="#e95667"/>
<rect x="251" y="332" width="1" height="42" fill="#56b98b"/><rect x="250" y="345" width="3" height="29" fill="#56b98b"/>
<rect x="255" y="330" width="1" height="26" fill="#56b98b"/><rect x="254" y="337" width="3" height="13" fill="#56b98b"/>
<rect x="260" y="324" width="1" height="32" fill="#e95667"/><rect x="259" y="334" width="3" height="6" fill="#e95667"/>
<rect x="264" y="313" width="1" height="29" fill="#56b98b"/><rect x="263" y="313" width="3" height="29" fill="#56b98b"/>
<rect x="269" y="290" width="1" height="24" fill="#e95667"/><rect x="268" y="308" width="3" height="3" fill="#e95667"/>
<rect x="273" y="282" width="1" height="24" fill="#e95667"/><rect x="272" y="295" width="3" height="3" fill="#e95667"/>
<rect x="277" y="270" width="1" height="33" fill="#56b98b"/><rect x="276" y="274" width="3" height="29" fill="#56b98b"/>
<rect x="282" y="251" width="1" height="21" fill="#56b98b"/><rect x="281" y="261" width="3" height="10" fill="#56b98b"/>
<rect x="286" y="264" width="1" height="18" fill="#56b98b"/><rect x="285" y="272" width="3" height="10" fill="#56b98b"/>
<rect x="291" y="278" width="1" height="28" fill="#e95667"/><rect x="290" y="286" width="3" height="19" fill="#e95667"/>
<rect x="295" y="280" width="1" height="28" fill="#e95667"/><rect x="294" y="286" width="3" height="18" fill="#e95667"/>
<rect x="300" y="287" width="1" height="34" fill="#56b98b"/><rect x="299" y="290" width="3" height="21" fill="#56b98b"/>
<rect x="304" y="274" width="1" height="27" fill="#56b98b"/><rect x="303" y="298" width="3" height="3" fill="#56b98b"/>
<rect x="309" y="278" width="1" height="50" fill="#e95667"/><rect x="308" y="298" width="3" height="26" fill="#e95667"/>
<rect x="313" y="290" width="1" height="48" fill="#e95667"/><rect x="312" y="319" width="3" height="17" fill="#e95667"/>
<rect x="318" y="306" width="1" height="42" fill="#e95667"/><rect x="317" y="321" width="3" height="1" fill="#e95667"/>
<rect x="322" y="316" width="1" height="29" fill="#e95667"/><rect x="321" y="327" width="3" height="17" fill="#e95667"/>
<rect x="327" y="324" width="1" height="42" fill="#e95667"/><rect x="326" y="334" width="3" height="24" fill="#e95667"/>
<rect x="331" y="348" width="1" height="20" fill="#56b98b"/><rect x="330" y="355" width="3" height="5" fill="#56b98b"/>
<rect x="336" y="348" width="1" height="60" fill="#e95667"/><rect x="335" y="355" width="3" height="50" fill="#e95667"/>
<rect x="340" y="392" width="1" height="46" fill="#e95667"/><rect x="339" y="405" width="3" height="21" fill="#e95667"/>
<rect x="344" y="418" width="1" height="56" fill="#e95667"/><rect x="343" y="423" width="3" height="51" fill="#e95667"/>
<rect x="349" y="450" width="1" height="47" fill="#e95667"/><rect x="348" y="478" width="3" height="2" fill="#e95667"/>
<rect x="353" y="418" width="1" height="53" fill="#56b98b"/><rect x="352" y="429" width="3" height="23" fill="#56b98b"/>
<rect x="358" y="416" width="1" height="47" fill="#e95667"/><rect x="357" y="431" width="3" height="5" fill="#e95667"/>
<rect x="362" y="434" width="1" height="18" fill="#56b98b"/><rect x="361" y="439" width="3" height="13" fill="#56b98b"/>
<rect x="367" y="406" width="1" height="41" fill="#e95667"/><rect x="366" y="434" width="3" height="4" fill="#e95667"/>
<rect x="371" y="425" width="1" height="19" fill="#56b98b"/><rect x="370" y="431" width="3" height="6" fill="#56b98b"/>
<rect x="376" y="434" width="1" height="29" fill="#e95667"/><rect x="375" y="444" width="3" height="8" fill="#e95667"/>
<rect x="380" y="466" width="1" height="23" fill="#e95667"/><rect x="379" y="471" width="3" height="9" fill="#e95667"/>
<rect x="385" y="450" width="1" height="26" fill="#56b98b"/><rect x="384" y="450" width="3" height="24" fill="#56b98b"/>
<rect x="389" y="369" width="1" height="57" fill="#56b98b"/><rect x="388" y="371" width="3" height="55" fill="#56b98b"/>
<rect x="394" y="368" width="1" height="30" fill="#e95667"/><rect x="393" y="368" width="3" height="23" fill="#e95667"/>
<rect x="398" y="376" width="1" height="29" fill="#e95667"/><rect x="397" y="384" width="3" height="21" fill="#e95667"/>
<rect x="403" y="379" width="1" height="37" fill="#56b98b"/><rect x="402" y="381" width="3" height="24" fill="#56b98b"/>
<rect x="407" y="371" width="1" height="30" fill="#56b98b"/><rect x="406" y="371" width="3" height="24" fill="#56b98b"/>
<rect x="412" y="374" width="1" height="26" fill="#e95667"/><rect x="411" y="384" width="3" height="6" fill="#e95667"/>
<rect x="416" y="356" width="1" height="47" fill="#56b98b"/><rect x="415" y="366" width="3" height="37" fill="#56b98b"/>
<rect x="420" y="337" width="1" height="34" fill="#e95667"/><rect x="419" y="337" width="3" height="32" fill="#e95667"/>
<rect x="425" y="328" width="1" height="41" fill="#56b98b"/><rect x="424" y="330" width="3" height="36" fill="#56b98b"/>
<rect x="429" y="315" width="1" height="25" fill="#e95667"/><rect x="428" y="330" width="3" height="2" fill="#e95667"/>
<rect x="434" y="288" width="1" height="42" fill="#e95667"/><rect x="433" y="306" width="3" height="1" fill="#e95667"/>
<rect x="438" y="301" width="1" height="60" fill="#e95667"/><rect x="437" y="306" width="3" height="53" fill="#e95667"/>
<rect x="443" y="348" width="1" height="26" fill="#e95667"/><rect x="442" y="358" width="3" height="11" fill="#e95667"/>
<rect x="447" y="340" width="1" height="24" fill="#56b98b"/><rect x="446" y="361" width="3" height="3" fill="#56b98b"/>
<rect x="452" y="354" width="1" height="42" fill="#e95667"/><rect x="451" y="364" width="3" height="2" fill="#e95667"/>
<rect x="456" y="355" width="1" height="11" fill="#56b98b"/><rect x="455" y="361" width="3" height="5" fill="#56b98b"/>
<rect x="461" y="332" width="1" height="34" fill="#56b98b"/><rect x="460" y="340" width="3" height="26" fill="#56b98b"/>
<rect x="465" y="306" width="1" height="32" fill="#56b98b"/><rect x="464" y="308" width="3" height="17" fill="#56b98b"/>
<rect x="470" y="296" width="1" height="43" fill="#56b98b"/><rect x="469" y="308" width="3" height="8" fill="#56b98b"/>
<rect x="474" y="314" width="1" height="44" fill="#56b98b"/><rect x="473" y="327" width="3" height="28" fill="#56b98b"/>
<rect x="479" y="327" width="1" height="28" fill="#e95667"/><rect x="478" y="340" width="3" height="6" fill="#e95667"/>
<rect x="483" y="316" width="1" height="29" fill="#e95667"/><rect x="482" y="329" width="3" height="1" fill="#e95667"/>
<rect x="487" y="314" width="1" height="24" fill="#e95667"/><rect x="486" y="319" width="3" height="1" fill="#e95667"/>
<rect x="492" y="314" width="1" height="20" fill="#e95667"/><rect x="491" y="315" width="3" height="1" fill="#e95667"/>
<rect x="496" y="296" width="1" height="34" fill="#56b98b"/><rect x="495" y="321" width="3" height="3" fill="#56b98b"/>
<rect x="501" y="300" width="1" height="32" fill="#56b98b"/><rect x="500" y="300" width="3" height="14" fill="#56b98b"/>
<rect x="505" y="322" width="1" height="57" fill="#56b98b"/><rect x="504" y="345" width="3" height="11" fill="#56b98b"/>
<rect x="510" y="334" width="1" height="16" fill="#e95667"/><rect x="509" y="344" width="3" height="6" fill="#e95667"/>
<rect x="514" y="314" width="1" height="31" fill="#56b98b"/><rect x="513" y="336" width="3" height="6" fill="#56b98b"/>
<rect x="519" y="317" width="1" height="28" fill="#56b98b"/><rect x="518" y="324" width="3" height="17" fill="#56b98b"/>
<rect x="523" y="311" width="1" height="21" fill="#56b98b"/><rect x="522" y="311" width="3" height="13" fill="#56b98b"/>
<rect x="528" y="303" width="1" height="29" fill="#e95667"/><rect x="527" y="311" width="3" height="4" fill="#e95667"/>
<rect x="532" y="306" width="1" height="13" fill="#e95667"/><rect x="531" y="313" width="3" height="1" fill="#e95667"/>
<rect x="537" y="300" width="1" height="19" fill="#56b98b"/><rect x="536" y="313" width="3" height="3" fill="#56b98b"/>
<rect x="541" y="300" width="1" height="16" fill="#56b98b"/><rect x="540" y="300" width="3" height="3" fill="#56b98b"/>
<rect x="546" y="282" width="1" height="24" fill="#e95667"/><rect x="545" y="300" width="3" height="1" fill="#e95667"/>
<rect x="550" y="290" width="1" height="24" fill="#e95667"/><rect x="549" y="300" width="3" height="14" fill="#e95667"/>
<rect x="554" y="279" width="1" height="53" fill="#56b98b"/><rect x="553" y="280" width="3" height="50" fill="#56b98b"/>
<rect x="559" y="253" width="1" height="56" fill="#e95667"/><rect x="558" y="281" width="3" height="9" fill="#e95667"/>
<rect x="563" y="308" width="1" height="14" fill="#e95667"/><rect x="562" y="308" width="3" height="14" fill="#e95667"/>
<rect x="568" y="290" width="1" height="42" fill="#56b98b"/><rect x="567" y="295" width="3" height="24" fill="#56b98b"/>
<rect x="572" y="306" width="1" height="39" fill="#e95667"/><rect x="571" y="308" width="3" height="32" fill="#e95667"/>
<rect x="577" y="306" width="1" height="48" fill="#56b98b"/><rect x="576" y="308" width="3" height="44" fill="#56b98b"/>
<rect x="581" y="278" width="1" height="33" fill="#56b98b"/><rect x="580" y="290" width="3" height="18" fill="#56b98b"/>
<rect x="586" y="286" width="1" height="36" fill="#e95667"/><rect x="585" y="302" width="3" height="9" fill="#e95667"/>
<rect x="590" y="298" width="1" height="40" fill="#e95667"/><rect x="589" y="306" width="3" height="5" fill="#e95667"/>
<rect x="595" y="300" width="1" height="27" fill="#e95667"/><rect x="594" y="319" width="3" height="1" fill="#e95667"/>
<rect x="599" y="292" width="1" height="35" fill="#56b98b"/><rect x="598" y="298" width="3" height="26" fill="#56b98b"/>
<rect x="604" y="254" width="1" height="46" fill="#56b98b"/><rect x="603" y="265" width="3" height="33" fill="#56b98b"/>
<rect x="608" y="262" width="1" height="23" fill="#e95667"/><rect x="607" y="266" width="3" height="19" fill="#e95667"/>
<rect x="613" y="261" width="1" height="25" fill="#56b98b"/><rect x="612" y="272" width="3" height="13" fill="#56b98b"/>
<rect x="617" y="265" width="1" height="15" fill="#56b98b"/><rect x="616" y="269" width="3" height="11" fill="#56b98b"/>
<rect x="622" y="261" width="1" height="13" fill="#e95667"/><rect x="621" y="261" width="3" height="13" fill="#e95667"/>
<rect x="626" y="237" width="1" height="35" fill="#56b98b"/><rect x="625" y="255" width="3" height="13" fill="#56b98b"/>
<rect x="630" y="245" width="1" height="21" fill="#e95667"/><rect x="629" y="249" width="3" height="12" fill="#e95667"/>
<rect x="635" y="230" width="1" height="34" fill="#56b98b"/><rect x="634" y="232" width="3" height="29" fill="#56b98b"/>
<rect x="639" y="206" width="1" height="45" fill="#56b98b"/><rect x="638" y="228" width="3" height="23" fill="#56b98b"/>
<rect x="644" y="188" width="1" height="32" fill="#56b98b"/><rect x="643" y="190" width="3" height="26" fill="#56b98b"/>
<rect x="648" y="196" width="1" height="18" fill="#e95667"/><rect x="647" y="199" width="3" height="1" fill="#e95667"/>
<rect x="653" y="198" width="1" height="43" fill="#e95667"/><rect x="652" y="198" width="3" height="22" fill="#e95667"/>
<rect x="657" y="218" width="1" height="18" fill="#56b98b"/><rect x="656" y="228" width="3" height="7" fill="#56b98b"/>
<rect x="662" y="218" width="1" height="62" fill="#e95667"/><rect x="661" y="248" width="3" height="32" fill="#e95667"/>
<rect x="666" y="280" width="1" height="147" fill="#e95667"/><rect x="665" y="285" width="3" height="127" fill="#e95667"/>
<rect x="671" y="395" width="1" height="117" fill="#56b98b"/><rect x="670" y="436" width="3" height="46" fill="#56b98b"/>
<rect x="675" y="326" width="1" height="158" fill="#e95667"/><rect x="674" y="337" width="3" height="123" fill="#e95667"/>
<rect x="680" y="318" width="1" height="164" fill="#56b98b"/><rect x="679" y="329" width="3" height="141" fill="#56b98b"/>
<rect x="684" y="295" width="1" height="95" fill="#e95667"/><rect x="683" y="334" width="3" height="37" fill="#e95667"/>
<rect x="689" y="352" width="1" height="56" fill="#56b98b"/><rect x="688" y="366" width="3" height="38" fill="#56b98b"/>
<rect x="693" y="322" width="1" height="34" fill="#56b98b"/><rect x="692" y="332" width="3" height="13" fill="#56b98b"/>
<rect x="697" y="306" width="1" height="30" fill="#56b98b"/><rect x="696" y="311" width="3" height="21" fill="#56b98b"/>
<rect x="702" y="300" width="1" height="48" fill="#e95667"/><rect x="701" y="321" width="3" height="24" fill="#e95667"/>
<rect x="706" y="284" width="1" height="56" fill="#56b98b"/><rect x="705" y="311" width="3" height="27" fill="#56b98b"/>
<rect x="711" y="306" width="1" height="53" fill="#e95667"/><rect x="710" y="324" width="3" height="18" fill="#e95667"/>
<rect x="715" y="290" width="1" height="40" fill="#56b98b"/><rect x="714" y="308" width="3" height="17" fill="#56b98b"/>
<rect x="720" y="282" width="1" height="37" fill="#e95667"/><rect x="719" y="285" width="3" height="25" fill="#e95667"/>
<rect x="724" y="282" width="1" height="30" fill="#56b98b"/><rect x="723" y="287" width="3" height="19" fill="#56b98b"/>
<rect x="729" y="279" width="1" height="35" fill="#e95667"/><rect x="728" y="280" width="3" height="10" fill="#e95667"/>
<rect x="733" y="261" width="1" height="34" fill="#56b98b"/><rect x="732" y="269" width="3" height="19" fill="#56b98b"/>
<rect x="738" y="249" width="1" height="25" fill="#56b98b"/><rect x="737" y="252" width="3" height="18" fill="#56b98b"/>
<rect x="742" y="270" width="1" height="44" fill="#56b98b"/><rect x="741" y="274" width="3" height="14" fill="#56b98b"/>
<rect x="747" y="261" width="1" height="27" fill="#56b98b"/><rect x="746" y="274" width="3" height="4" fill="#56b98b"/>
<rect x="751" y="266" width="1" height="26" fill="#56b98b"/><rect x="750" y="274" width="3" height="7" fill="#56b98b"/>
<rect x="756" y="261" width="1" height="27" fill="#e95667"/><rect x="755" y="269" width="3" height="10" fill="#e95667"/>
<rect x="760" y="265" width="1" height="15" fill="#56b98b"/><rect x="759" y="271" width="3" height="7" fill="#56b98b"/>
<rect x="764" y="258" width="1" height="14" fill="#56b98b"/><rect x="763" y="269" width="3" height="3" fill="#56b98b"/>
<rect x="769" y="253" width="1" height="29" fill="#e95667"/><rect x="768" y="258" width="3" height="22" fill="#e95667"/>
<rect x="773" y="262" width="1" height="23" fill="#56b98b"/><rect x="772" y="266" width="3" height="14" fill="#56b98b"/>
<rect x="778" y="232" width="1" height="42" fill="#e95667"/><rect x="777" y="235" width="3" height="26" fill="#e95667"/>
<rect x="782" y="251" width="1" height="18" fill="#e95667"/><rect x="781" y="252" width="3" height="9" fill="#e95667"/>
<rect x="787" y="253" width="1" height="25" fill="#e95667"/><rect x="786" y="253" width="3" height="22" fill="#e95667"/>
<rect x="791" y="241" width="1" height="33" fill="#56b98b"/><rect x="790" y="248" width="3" height="19" fill="#56b98b"/>
<rect x="796" y="211" width="1" height="42" fill="#56b98b"/><rect x="795" y="211" width="3" height="27" fill="#56b98b"/>
<rect x="800" y="214" width="1" height="16" fill="#56b98b"/><rect x="799" y="222" width="3" height="3" fill="#56b98b"/>
<rect x="805" y="201" width="1" height="29" fill="#56b98b"/><rect x="804" y="201" width="3" height="27" fill="#56b98b"/>
<rect x="809" y="201" width="1" height="44" fill="#e95667"/><rect x="808" y="201" width="3" height="34" fill="#e95667"/>
<rect x="814" y="222" width="1" height="48" fill="#e95667"/><rect x="813" y="235" width="3" height="18" fill="#e95667"/>
<rect x="818" y="230" width="1" height="36" fill="#56b98b"/><rect x="817" y="237" width="3" height="11" fill="#56b98b"/>
<rect x="823" y="224" width="1" height="21" fill="#e95667"/><rect x="822" y="228" width="3" height="7" fill="#e95667"/>
<rect x="827" y="228" width="1" height="17" fill="#e95667"/><rect x="826" y="229" width="3" height="15" fill="#e95667"/>
<rect x="831" y="220" width="1" height="18" fill="#56b98b"/><rect x="830" y="222" width="3" height="10" fill="#56b98b"/>
<rect x="836" y="220" width="1" height="18" fill="#56b98b"/><rect x="835" y="222" width="3" height="3" fill="#56b98b"/>
<rect x="840" y="222" width="1" height="18" fill="#e95667"/><rect x="839" y="230" width="3" height="1" fill="#e95667"/>
<rect x="845" y="224" width="1" height="16" fill="#e95667"/><rect x="844" y="224" width="3" height="1" fill="#e95667"/>
<rect x="849" y="226" width="1" height="25" fill="#e95667"/><rect x="848" y="228" width="3" height="23" fill="#e95667"/>
<rect x="854" y="238" width="1" height="18" fill="#e95667"/><rect x="853" y="248" width="3" height="6" fill="#e95667"/>
<rect x="858" y="242" width="1" height="14" fill="#56b98b"/><rect x="857" y="248" width="3" height="8" fill="#56b98b"/>
<rect x="863" y="240" width="1" height="26" fill="#56b98b"/><rect x="862" y="248" width="3" height="6" fill="#56b98b"/>
<rect x="867" y="220" width="1" height="29" fill="#e95667"/><rect x="866" y="232" width="3" height="14" fill="#e95667"/>
<rect x="872" y="230" width="1" height="14" fill="#56b98b"/><rect x="871" y="237" width="3" height="5" fill="#56b98b"/>
<rect x="876" y="220" width="1" height="19" fill="#56b98b"/><rect x="875" y="230" width="3" height="8" fill="#56b98b"/>
<rect x="881" y="220" width="1" height="26" fill="#56b98b"/><rect x="880" y="240" width="3" height="4" fill="#56b98b"/>
<rect x="885" y="228" width="1" height="38" fill="#e95667"/><rect x="884" y="240" width="3" height="10" fill="#e95667"/>
<rect x="890" y="241" width="1" height="31" fill="#e95667"/><rect x="889" y="248" width="3" height="10" fill="#e95667"/>
<rect x="894" y="253" width="1" height="14" fill="#56b98b"/><rect x="893" y="264" width="3" height="3" fill="#56b98b"/>
<rect x="899" y="249" width="1" height="29" fill="#56b98b"/><rect x="898" y="258" width="3" height="17" fill="#56b98b"/>
<rect x="903" y="240" width="1" height="18" fill="#56b98b"/><rect x="902" y="248" width="3" height="10" fill="#56b98b"/>
<rect x="907" y="224" width="1" height="21" fill="#56b98b"/><rect x="906" y="232" width="3" height="8" fill="#56b98b"/>
<rect x="912" y="222" width="1" height="24" fill="#56b98b"/><rect x="911" y="230" width="3" height="2" fill="#56b98b"/>
<rect x="916" y="217" width="1" height="15" fill="#56b98b"/><rect x="915" y="217" width="3" height="8" fill="#56b98b"/>
<rect x="921" y="209" width="1" height="15" fill="#e95667"/><rect x="920" y="214" width="3" height="6" fill="#e95667"/>
<rect x="925" y="222" width="1" height="21" fill="#56b98b"/><rect x="924" y="222" width="3" height="13" fill="#56b98b"/>
<rect x="930" y="218" width="1" height="22" fill="#56b98b"/><rect x="929" y="230" width="3" height="5" fill="#56b98b"/>
<rect x="934" y="220" width="1" height="26" fill="#e95667"/><rect x="933" y="222" width="3" height="18" fill="#e95667"/>
<rect x="939" y="228" width="1" height="12" fill="#56b98b"/><rect x="938" y="228" width="3" height="12" fill="#56b98b"/>
<rect x="943" y="222" width="1" height="24" fill="#e95667"/><rect x="942" y="224" width="3" height="8" fill="#e95667"/>
<rect x="948" y="245" width="1" height="24" fill="#e95667"/><rect x="947" y="250" width="3" height="11" fill="#e95667"/>
<rect x="952" y="235" width="1" height="26" fill="#56b98b"/><rect x="951" y="235" width="3" height="14" fill="#56b98b"/>
<rect x="957" y="218" width="1" height="31" fill="#e95667"/><rect x="956" y="232" width="3" height="17" fill="#e95667"/>
<rect x="961" y="238" width="1" height="18" fill="#e95667"/><rect x="960" y="242" width="3" height="9" fill="#e95667"/>
<rect x="966" y="240" width="1" height="16" fill="#e95667"/><rect x="965" y="243" width="3" height="8" fill="#e95667"/>
<rect x="970" y="251" width="1" height="10" fill="#e95667"/><rect x="969" y="251" width="3" height="1" fill="#e95667"/>
<rect x="974" y="246" width="1" height="15" fill="#56b98b"/><rect x="973" y="248" width="3" height="8" fill="#56b98b"/>
<rect x="979" y="237" width="1" height="12" fill="#56b98b"/><rect x="978" y="237" width="3" height="11" fill="#56b98b"/>
<rect x="983" y="224" width="1" height="11" fill="#56b98b"/><rect x="982" y="230" width="3" height="4" fill="#56b98b"/>
<rect x="988" y="214" width="1" height="16" fill="#e95667"/><rect x="987" y="214" width="3" height="6" fill="#e95667"/>
<rect x="992" y="211" width="1" height="11" fill="#56b98b"/><rect x="991" y="211" width="3" height="9" fill="#56b98b"/>
<rect x="997" y="206" width="1" height="29" fill="#e95667"/><rect x="996" y="210" width="3" height="12" fill="#e95667"/>
<rect x="1001" y="201" width="1" height="31" fill="#56b98b"/><rect x="1000" y="220" width="3" height="10" fill="#56b98b"/>
<rect x="1006" y="209" width="1" height="13" fill="#56b98b"/><rect x="1005" y="214" width="3" height="8" fill="#56b98b"/>
<rect x="1010" y="202" width="1" height="18" fill="#e95667"/><rect x="1009" y="204" width="3" height="16" fill="#e95667"/>
<rect x="1015" y="209" width="1" height="11" fill="#56b98b"/><rect x="1014" y="211" width="3" height="6" fill="#56b98b"/>
<rect x="1019" y="199" width="1" height="18" fill="#e95667"/><rect x="1018" y="202" width="3" height="7" fill="#e95667"/>
<rect x="1024" y="218" width="1" height="17" fill="#e95667"/><rect x="1023" y="223" width="3" height="1" fill="#e95667"/>
<rect x="1028" y="220" width="1" height="26" fill="#e95667"/><rect x="1027" y="228" width="3" height="7" fill="#e95667"/>
<rect x="1033" y="208" width="1" height="27" fill="#56b98b"/><rect x="1032" y="209" width="3" height="13" fill="#56b98b"/>
<rect x="1037" y="209" width="1" height="23" fill="#e95667"/><rect x="1036" y="211" width="3" height="19" fill="#e95667"/>
<rect x="1041" y="220" width="1" height="15" fill="#e95667"/><rect x="1040" y="230" width="3" height="5" fill="#e95667"/>
<rect x="1046" y="214" width="1" height="16" fill="#56b98b"/><rect x="1045" y="214" width="3" height="6" fill="#56b98b"/>
<rect x="1050" y="209" width="1" height="16" fill="#e95667"/><rect x="1049" y="211" width="3" height="5" fill="#e95667"/>
<rect x="1055" y="209" width="1" height="19" fill="#e95667"/><rect x="1054" y="222" width="3" height="5" fill="#e95667"/>
<rect x="1059" y="212" width="1" height="18" fill="#56b98b"/><rect x="1058" y="214" width="3" height="4" fill="#56b98b"/>
<rect x="1064" y="206" width="1" height="16" fill="#56b98b"/><rect x="1063" y="206" width="3" height="5" fill="#56b98b"/>
<rect x="1068" y="201" width="1" height="13" fill="#e95667"/><rect x="1067" y="206" width="3" height="4" fill="#e95667"/>
<rect x="1073" y="206" width="1" height="14" fill="#e95667"/><rect x="1072" y="211" width="3" height="6" fill="#e95667"/>
<rect x="1077" y="209" width="1" height="9" fill="#e95667"/><rect x="1076" y="209" width="3" height="5" fill="#e95667"/>
<rect x="1082" y="209" width="1" height="9" fill="#56b98b"/><rect x="1081" y="211" width="3" height="3" fill="#56b98b"/>
<rect x="1086" y="201" width="1" height="10" fill="#56b98b"/><rect x="1085" y="201" width="3" height="8" fill="#56b98b"/>
<rect x="1091" y="204" width="1" height="10" fill="#56b98b"/><rect x="1090" y="209" width="3" height="5" fill="#56b98b"/>
<rect x="1095" y="196" width="1" height="13" fill="#56b98b"/><rect x="1094" y="204" width="3" height="5" fill="#56b98b"/>
<rect x="1100" y="196" width="1" height="13" fill="#56b98b"/><rect x="1099" y="199" width="3" height="7" fill="#56b98b"/>
<rect x="1104" y="196" width="1" height="10" fill="#56b98b"/><rect x="1103" y="201" width="3" height="4" fill="#56b98b"/>
<rect x="1109" y="190" width="1" height="11" fill="#56b98b"/><rect x="1108" y="193" width="3" height="5" fill="#56b98b"/>
<rect x="1113" y="178" width="1" height="15" fill="#56b98b"/><rect x="1112" y="185" width="3" height="3" fill="#56b98b"/>
<rect x="1117" y="196" width="1" height="21" fill="#56b98b"/><rect x="1116" y="202" width="3" height="9" fill="#56b98b"/>
<rect x="1122" y="204" width="1" height="20" fill="#e95667"/><rect x="1121" y="220" width="3" height="2" fill="#e95667"/>
<rect x="1126" y="204" width="1" height="20" fill="#56b98b"/><rect x="1125" y="209" width="3" height="11" fill="#56b98b"/>
<rect x="1131" y="202" width="1" height="18" fill="#e95667"/><rect x="1130" y="209" width="3" height="11" fill="#e95667"/>
<rect x="1135" y="202" width="1" height="20" fill="#e95667"/><rect x="1134" y="204" width="3" height="5" fill="#e95667"/>
<rect x="1140" y="209" width="1" height="19" fill="#e95667"/><rect x="1139" y="209" width="3" height="13" fill="#e95667"/>
<rect x="1144" y="182" width="1" height="40" fill="#56b98b"/><rect x="1143" y="182" width="3" height="38" fill="#56b98b"/>
<rect x="1149" y="170" width="1" height="19" fill="#56b98b"/><rect x="1148" y="172" width="3" height="10" fill="#56b98b"/>
<rect x="1153" y="164" width="1" height="26" fill="#e95667"/><rect x="1152" y="168" width="3" height="14" fill="#e95667"/>
<rect x="1158" y="165" width="1" height="17" fill="#56b98b"/><rect x="1157" y="167" width="3" height="13" fill="#56b98b"/>
<rect x="1162" y="159" width="1" height="25" fill="#e95667"/><rect x="1161" y="162" width="3" height="22" fill="#e95667"/>
<rect x="1167" y="170" width="1" height="26" fill="#e95667"/><rect x="1166" y="172" width="3" height="22" fill="#e95667"/>
<rect x="1171" y="172" width="1" height="22" fill="#56b98b"/><rect x="1170" y="188" width="3" height="6" fill="#56b98b"/>
</g>
<path d="M63.75 197.5 L67 195 L70 188.75 L75 175 L80 162.5 L86.25 151.25 L94.5 139.25 L98.75 140 L103.25 137.5 L108 139.25 L112.5 144.5 L117.5 133.75 L122.5 127 L127.5 123.75 L135 123.25 L142.5 124.25 L150 124.75 L157.5 127.5 L165 137.5 L172.5 148.75 L177.5 158.75 L185 180 L192.5 202.5 L197.5 214.5 L202.5 205 L207 194.5 L212.5 188 L217.5 183 L224.5 182 L230 187.5 L234.5 192 L238.75 200 L245 208.75 L252.5 220 L260 236.25 L265 250 L270 261.25 L273.75 271.25 L277.5 271.25 L282.5 266.25 L287.5 261.25 L295 260 L300.75 256.5 L310 257.5 L320 257.5 L327.5 256.5 L331.25 257.5 L336.25 251.25 L340 242.5 L345 220 L350 211.25 L357.5 212 L362.5 216.25 L367.5 225 L372.5 241.25 L377.5 252.5 L382.5 262.5 L385 270 L390 285 L397.5 307.5 L405 326.25 L411.25 337.5 L420 343.75 L423.75 335 L428.75 317.5 L433.75 306.25 L440 301.25 L450 297.5 L458.75 293.75 L465.5 288 L470 292.5 L475 298 L482.5 296.25 L492.5 292.5 L502.5 290 L515 292 L525 292.5 L535 290.5 L550 290.5 L555 281.25 L565 280.5 L575 278.75 L581.25 275 L590 276.25 L598.75 279.5 L603.75 273.75 L615 262.5 L625 253.75 L632.5 243.75 L640 225 L648.75 196.25 L657.5 184.5 L662.5 188 L667.5 167.5 L675.75 136.75 L682.5 136.25 L688.25 134.25 L697.5 138.75 L710 146.25 L720 155 L730 168.75 L735 185 L742.5 202.5 L748 213.25 L752.5 213.25 L756.25 211.25 L760 217 L765 232.5 L768.75 230.75 L775 233.75 L780 236.25 L787.5 234.75 L791.88 235.25 L796.25 224.38 L800.62 219.38 L805.62 211.25 L809.38 210.62 L817.5 208.75 L823.75 206.5 L830 203.12 L836.25 200 L845 198.12 L852.5 198.75 L860 201.25 L872.5 203.75 L880 206.5 L886.25 208.75 L891.25 211.88 L894.38 217.25 L905 217.75 L911.25 216.88 L915.62 212.5 L921.25 212.25 L927.5 212.5 L933.75 214.38 L940 213.5 L950 211.25 L960 211.25 L972.5 213.75 L985 212.5 L992.5 207.5 L1002.5 205.5 L1012.5 203.75 L1022.5 200 L1033.75 197 L1042.5 198 L1052.5 198 L1062.5 200.5 L1072.5 201.25 L1082.5 199.5 L1092.5 196.25 L1102.5 193 L1110 188 L1113.75 185.5 L1120 186.25 L1130 188.75 L1140 188 L1145 182.5 L1152.5 175 L1160 167.5 L1165 167.5 L1171.25 166.25 L1171.25 229.25 L1165 231.25 L1158.75 233.75 L1152.5 232.5 L1145 230 L1135 228.25 L1130 230 L1122.5 235 L1118.75 235 L1113.75 238.25 L1102.5 236.25 L1090 235 L1075 235 L1065 238.75 L1057.5 246.25 L1047.5 256.25 L1038.75 258.75 L1033.75 264.5 L1025 263.75 L1012.5 263.75 L997.5 262 L986.25 262 L980 267.5 L972.5 270.5 L960 268.75 L955 267 L948.75 268.75 L943.75 265 L940 267.5 L933.75 268.12 L923.75 269.38 L915 268.75 L905 266.88 L900 267.5 L892.5 266.88 L887.5 265 L882.5 263.12 L876.25 264.38 L872.5 268.75 L867.5 272.5 L860 278.12 L853.75 285 L847.5 286.25 L837.5 295 L827.5 300 L820 301.25 L810 310 L805 316.25 L800 316.25 L796.25 327.5 L791.25 326.25 L787.5 335 L780 342.5 L772.5 357.5 L768.75 370 L764.5 372.5 L762.5 390 L760 412.5 L756.25 431.25 L751.25 442 L747.5 442.5 L745 445 L740 450 L735 456.25 L730 463 L725 465.5 L720 466.25 L713.75 464.5 L707.5 460.75 L702.5 458.75 L697.5 454.5 L693.75 453.25 L686.25 446.25 L680 435 L675 432.5 L670 390 L665 355 L662.5 341.25 L656.25 352.5 L648.75 357.5 L643.75 352.5 L638.75 342.5 L630 338.75 L620 337 L608.75 337.5 L600 340.5 L592.5 349.5 L583.75 351.25 L576.25 351.25 L568.75 350 L562.5 353.75 L557.5 353.75 L551.25 349.5 L546.25 352.5 L540 360 L532.5 370 L525 377 L512.5 377 L505 380 L495 392.5 L487.5 400 L485 403.75 L480 410 L474.5 413.75 L470 432.5 L465 452.5 L460 465 L452.5 475 L445 485 L438.75 490 L435 498.75 L429.5 503 L425 498.75 L420.5 494.5 L415 495.5 L410 497.5 L402.5 506.25 L395 512.5 L390 518.75 L385 524.25 L380 520 L376.25 511.25 L370 505 L362.5 492.5 L355 477.5 L350 462.5 L345 437.5 L343.75 430 L340 405 L336.25 386.25 L331.25 377.5 L327.5 378.75 L322.5 376.25 L315 375 L308.75 376.25 L301.25 387.5 L296.25 390 L292.5 396.25 L287.5 400.5 L281.25 397.5 L275 395 L267.5 402.5 L260 411.25 L252.5 414.5 L247.5 413.25 L242.5 408.75 L232.5 397.5 L220 385 L210 357.5 L202.5 332.5 L197 316.75 L192.5 316.75 L185 322.5 L177.5 330 L168.75 333.75 L160 332.5 L150 329.5 L142.5 328 L135 324.5 L127.5 318.75 L122.5 310 L117.5 295 L112.5 281.25 L107.5 290 L100 302.5 L90 323.75 L81.25 335.5 L75 336.25 L67.5 337.5 L65 345 L63.25 352 Z" fill="rgba(38,166,154,0.10)" stroke="none"/>
<path d="M63.25 274.25 L70 265 L77.5 252.5 L85 241.25 L92.5 230 L100 219.5 L107.5 215 L112.5 213 L120 217 L127.5 222 L140 226.25 L150 228.75 L160 232.5 L170 240 L180 247.5 L190 256.25 L200 267.5 L215 277.5 L220 283.12 L232.5 294.38 L245 308.75 L260 325 L267.5 330.62 L275 333.12 L285 331.5 L292.5 328.12 L300 321.88 L307.5 317.75 L313.75 316.5 L322.5 317.75 L330.62 317.25 L337.5 320 L345 328.12 L352.5 338.75 L361.25 350 L370 370 L380 387.5 L390 402.5 L400 412.5 L410 417.5 L420 419.5 L427.5 413.75 L433.75 402.5 L440 393.75 L450 386.25 L460 380 L465 372.5 L475 357.5 L485 347.5 L495 340 L505 334.5 L515 333.75 L525 331.25 L535 326.25 L545 321.25 L555 318.75 L565 316.25 L577.5 313.75 L590 312.5 L602.5 307.5 L615 301.25 L627.5 295 L640 286.25 L650 275 L652.5 270 L661.25 265 L667.5 272.5 L675 285 L690 292.5 L705 302.5 L720 311.25 L735 318.75 L750 328.25 L757.5 317.5 L765 302.5 L775 292.5 L785 285 L787.5 285 L796.25 275 L802.5 267.5 L810 260 L817.5 256.25 L827.5 251.25 L836.25 246.88 L847.5 242.5 L857.5 240 L867.5 238.12 L875 235.62 L880 234.75 L886.25 236.88 L892.5 240 L900 242.5 L906.25 241.88 L915 240.25 L923.75 240 L933.75 240.62 L940 240.25 L952.5 240.5 L970 241.25 L982.5 238.75 L990 236.25 L1002.5 233.75 L1015 232 L1027.5 230 L1040 227.5 L1052.5 223.75 L1065 220 L1077.5 217.5 L1090 215 L1102.5 212 L1115 210 L1127.5 210 L1140 208.75 L1152.5 203.75 L1165 199.5 L1171.25 197.5" fill="none" stroke="rgba(38,166,154,0.32)" stroke-width="1" stroke-linejoin="round"/>
<path d="M63.75 197.5 L67 195 L70 188.75 L75 175 L80 162.5 L86.25 151.25 L94.5 139.25 L98.75 140 L103.25 137.5 L108 139.25 L112.5 144.5 L117.5 133.75 L122.5 127 L127.5 123.75 L135 123.25 L142.5 124.25 L150 124.75 L157.5 127.5 L165 137.5 L172.5 148.75 L177.5 158.75 L185 180 L192.5 202.5 L197.5 214.5 L202.5 205 L207 194.5 L212.5 188 L217.5 183 L224.5 182 L230 187.5 L234.5 192 L238.75 200 L245 208.75 L252.5 220 L260 236.25 L265 250 L270 261.25 L273.75 271.25 L277.5 271.25 L282.5 266.25 L287.5 261.25 L295 260 L300.75 256.5 L310 257.5 L320 257.5 L327.5 256.5 L331.25 257.5 L336.25 251.25 L340 242.5 L345 220 L350 211.25 L357.5 212 L362.5 216.25 L367.5 225 L372.5 241.25 L377.5 252.5 L382.5 262.5 L385 270 L390 285 L397.5 307.5 L405 326.25 L411.25 337.5 L420 343.75 L423.75 335 L428.75 317.5 L433.75 306.25 L440 301.25 L450 297.5 L458.75 293.75 L465.5 288 L470 292.5 L475 298 L482.5 296.25 L492.5 292.5 L502.5 290 L515 292 L525 292.5 L535 290.5 L550 290.5 L555 281.25 L565 280.5 L575 278.75 L581.25 275 L590 276.25 L598.75 279.5 L603.75 273.75 L615 262.5 L625 253.75 L632.5 243.75 L640 225 L648.75 196.25 L657.5 184.5 L662.5 188 L667.5 167.5 L675.75 136.75 L682.5 136.25 L688.25 134.25 L697.5 138.75 L710 146.25 L720 155 L730 168.75 L735 185 L742.5 202.5 L748 213.25 L752.5 213.25 L756.25 211.25 L760 217 L765 232.5 L768.75 230.75 L775 233.75 L780 236.25 L787.5 234.75 L791.88 235.25 L796.25 224.38 L800.62 219.38 L805.62 211.25 L809.38 210.62 L817.5 208.75 L823.75 206.5 L830 203.12 L836.25 200 L845 198.12 L852.5 198.75 L860 201.25 L872.5 203.75 L880 206.5 L886.25 208.75 L891.25 211.88 L894.38 217.25 L905 217.75 L911.25 216.88 L915.62 212.5 L921.25 212.25 L927.5 212.5 L933.75 214.38 L940 213.5 L950 211.25 L960 211.25 L972.5 213.75 L985 212.5 L992.5 207.5 L1002.5 205.5 L1012.5 203.75 L1022.5 200 L1033.75 197 L1042.5 198 L1052.5 198 L1062.5 200.5 L1072.5 201.25 L1082.5 199.5 L1092.5 196.25 L1102.5 193 L1110 188 L1113.75 185.5 L1120 186.25 L1130 188.75 L1140 188 L1145 182.5 L1152.5 175 L1160 167.5 L1165 167.5 L1171.25 166.25" fill="none" stroke="#3dada2" stroke-width="1" stroke-linejoin="round"/>
<path d="M63.25 352 L65 345 L67.5 337.5 L75 336.25 L81.25 335.5 L90 323.75 L100 302.5 L107.5 290 L112.5 281.25 L117.5 295 L122.5 310 L127.5 318.75 L135 324.5 L142.5 328 L150 329.5 L160 332.5 L168.75 333.75 L177.5 330 L185 322.5 L192.5 316.75 L197 316.75 L202.5 332.5 L210 357.5 L220 385 L232.5 397.5 L242.5 408.75 L247.5 413.25 L252.5 414.5 L260 411.25 L267.5 402.5 L275 395 L281.25 397.5 L287.5 400.5 L292.5 396.25 L296.25 390 L301.25 387.5 L308.75 376.25 L315 375 L322.5 376.25 L327.5 378.75 L331.25 377.5 L336.25 386.25 L340 405 L343.75 430 L345 437.5 L350 462.5 L355 477.5 L362.5 492.5 L370 505 L376.25 511.25 L380 520 L385 524.25 L390 518.75 L395 512.5 L402.5 506.25 L410 497.5 L415 495.5 L420.5 494.5 L425 498.75 L429.5 503 L435 498.75 L438.75 490 L445 485 L452.5 475 L460 465 L465 452.5 L470 432.5 L474.5 413.75 L480 410 L485 403.75 L487.5 400 L495 392.5 L505 380 L512.5 377 L525 377 L532.5 370 L540 360 L546.25 352.5 L551.25 349.5 L557.5 353.75 L562.5 353.75 L568.75 350 L576.25 351.25 L583.75 351.25 L592.5 349.5 L600 340.5 L608.75 337.5 L620 337 L630 338.75 L638.75 342.5 L643.75 352.5 L648.75 357.5 L656.25 352.5 L662.5 341.25 L665 355 L670 390 L675 432.5 L680 435 L686.25 446.25 L693.75 453.25 L697.5 454.5 L702.5 458.75 L707.5 460.75 L713.75 464.5 L720 466.25 L725 465.5 L730 463 L735 456.25 L740 450 L745 445 L747.5 442.5 L751.25 442 L756.25 431.25 L760 412.5 L762.5 390 L764.5 372.5 L768.75 370 L772.5 357.5 L780 342.5 L787.5 335 L791.25 326.25 L796.25 327.5 L800 316.25 L805 316.25 L810 310 L820 301.25 L827.5 300 L837.5 295 L847.5 286.25 L853.75 285 L860 278.12 L867.5 272.5 L872.5 268.75 L876.25 264.38 L882.5 263.12 L887.5 265 L892.5 266.88 L900 267.5 L905 266.88 L915 268.75 L923.75 269.38 L933.75 268.12 L940 267.5 L943.75 265 L948.75 268.75 L955 267 L960 268.75 L972.5 270.5 L980 267.5 L986.25 262 L997.5 262 L1012.5 263.75 L1025 263.75 L1033.75 264.5 L1038.75 258.75 L1047.5 256.25 L1057.5 246.25 L1065 238.75 L1075 235 L1090 235 L1102.5 236.25 L1113.75 238.25 L1118.75 235 L1122.5 235 L1130 230 L1135 228.25 L1145 230 L1152.5 232.5 L1158.75 233.75 L1165 231.25 L1171.25 229.25" fill="none" stroke="#3dada2" stroke-width="1" stroke-linejoin="round"/>
<path d="M63.25 479.5 L72.5 475.5 L82.5 472.5 L92.5 467.5 L102.5 463.25 L112.5 460 L122.5 457.5 L137.5 452.5 L152.5 446.75 L170 442.5 L185 439.5 L197.5 436.25 L215 432.5 L230 430 L247.5 428.75 L265 425.75 L280 422 L300 417.5 L315 414.25 L327.5 413 L340 411.5 L365 411.5 L390 411.5 L400 411.25 L415 410 L440 408.25 L460 406.75 L475 403.75 L490 400 L510 396.25 L530 392.5 L550 388.75 L570 385 L590 381.25 L607.5 377.5 L622.5 372.5 L640 366.25 L665 356.25 L690 348.75 L715 340 L740 332.5 L750 328.75 L770 323.25 L790 317.5 L815 311.25 L835 306.25 L855 302.5 L875 299.5 L895 298.75 L915 297.5 L935 297 L960 297.5 L980 299.5 L1000 300.5 L1010 299.5 L1030 297.5 L1060 297 L1080 296.25 L1092.5 294.5 L1107.5 292 L1125 289.25 L1140 287.5 L1155 285 L1171.25 282" fill="none" stroke="#5a63c4" stroke-width="1" stroke-linejoin="round"/>
<path d="M63.25 394.25 L72.5 380 L82.5 362.5 L92.5 345 L102.5 330 L112.5 317.5 L122.5 310 L140 295 L152.5 285 L165 272.5 L175 265 L185 257.5 L192.5 253.25 L200 252 L210 255 L220 258 L230 258.75 L235 260 L251.25 265.62 L262.5 269.38 L273.75 272.5 L282.5 274.38 L287.5 275.62 L295 280 L307.5 286.88 L320 296.25 L332.5 303.75 L345 310 L357.5 320.62 L370 331.25 L380 341.25 L390 348.75 L400 355 L410 361.25 L417.5 364.5 L425 364.5 L432.5 363 L445 363 L457.5 364.5 L465 363.75 L475 361.75 L485 362.5 L495 363 L505 365 L515 367 L527.5 368 L540 367.5 L550 365 L560 360 L570 355 L580 348.75 L590 342.5 L600 336.25 L610 328.75 L620 322.5 L630 316.25 L640 310 L650 304.5 L662.5 300.5 L675 303.75 L690 305.75 L705 306.25 L720 305 L740 300.5 L760 296.25 L780 293.75 L790 292.5 L802.5 286.25 L808.75 284.38 L817.5 281.88 L827.5 280 L836.25 277.5 L845 276 L853.75 275 L860 276.25 L867.5 277.5 L877.5 278.5 L886.25 278.12 L891.25 275 L897.5 268.75 L905 263.12 L912.5 258.75 L921.25 255 L930 251.25 L940 248.12 L952.5 245.5 L965 245 L977.5 243.75 L990 240 L1002.5 237.5 L1015 235.75 L1027.5 235.75 L1040 235 L1052.5 233.75 L1065 232.5 L1077.5 230.5 L1090 228.75 L1102.5 227 L1115 223.75 L1122.5 222 L1140 221.25 L1152.5 218.75 L1171.25 214.5" fill="none" stroke="#8468c4" stroke-width="1" stroke-linejoin="round"/>
<path d="M60.5 117 V541.5" stroke="#e0ebf2" stroke-width="1"/>
<path d="M1174.5 117 V541.5" stroke="#e0ebf2" stroke-width="1"/>
<path d="M60 541.5 H1175" stroke="#e0ebf2" stroke-width="1"/>
<path d="M60 641.5 H1175" stroke="#e0ebf2" stroke-width="1"/>
<path d="M1174.5 541.5 V641.5 M1174.5 556.5 H1179.5 M1174.5 636.5 H1179.5" stroke="#afd0de" stroke-width="1" fill="none"/>
<g stroke="#c8e8fa" stroke-width="1" stroke-dasharray="6.2 1.8" stroke-dashoffset="0.7"><path d="M61 580.5 H1174"/><path d="M61 596.5 H1174"/><path d="M61 612.5 H1174"/></g>
<path d="M63.5 581.25 L67.97 578 L72.44 575.25 L76.9 578.25 L81.37 578.25 L85.84 577.25 L90.31 577.25 L94.78 575.25 L99.24 584.25 L103.71 583.25 L108.18 590 L112.65 598.75 L117.12 607.25 L121.58 603.25 L126.05 603.25 L130.52 599.25 L134.99 598 L139.46 593.25 L143.92 595.5 L148.39 592.25 L152.86 595.5 L157.33 594.5 L161.8 596.75 L166.26 595.75 L170.73 594.5 L175.2 594.5 L179.67 598.5 L184.14 595.5 L188.6 600.5 L193.07 601.5 L197.54 602.5 L202.01 610 L206.48 613.25 L210.94 605.25 L215.41 608.25 L219.88 606.25 L224.35 602.5 L228.82 599.25 L233.28 601.25 L237.75 602.5 L242.22 605.25 L246.69 605.25 L251.16 601.75 L255.62 599.25 L260.09 600.5 L264.56 596.5 L269.03 595.5 L273.5 593.25 L277.96 590 L282.43 588.25 L286.9 590.5 L291.37 596.5 L295.84 596.5 L300.3 593.25 L304.77 595.5 L309.24 599.25 L313.71 601.5 L318.18 598.5 L322.64 602.5 L327.11 604.5 L331.58 604.5 L336.05 610 L340.52 612 L344.98 616.25 L349.45 617.5 L353.92 606.25 L358.39 607.25 L362.86 608.25 L367.32 607.25 L371.79 606.25 L376.26 609.25 L380.73 611.5 L385.2 605.75 L389.66 593.25 L394.13 596 L398.6 598.5 L403.07 595.5 L407.54 593.25 L412 596.5 L416.47 593.5 L420.94 593.25 L425.41 589.5 L429.88 588.25 L434.34 586.25 L438.81 594.5 L443.28 595.5 L447.75 594.5 L452.22 595.5 L456.68 594.5 L461.15 591.5 L465.62 587.25 L470.09 587.25 L474.56 591.5 L479.02 594.5 L483.49 592.5 L487.96 590.25 L492.43 590.25 L496.9 591.25 L501.36 587.5 L505.83 596.25 L510.3 597.5 L514.77 595.5 L519.24 592.5 L523.7 590.25 L528.17 591.25 L532.64 591.5 L537.11 591.25 L541.58 588.25 L546.04 588.25 L550.51 592.5 L554.98 586.25 L559.45 588.25 L563.92 596.5 L568.38 591.5 L572.85 599.25 L577.32 594.5 L581.79 591.25 L586.26 595.5 L590.72 595.5 L595.19 596.5 L599.66 593.25 L604.13 588.25 L608.6 592.5 L613.06 590.5 L617.53 589.25 L622 590.25 L626.47 588.25 L630.94 589.25 L635.4 585.5 L639.87 583.25 L644.34 580.5 L648.81 583.25 L653.28 586.5 L657.74 588.75 L662.21 597.5 L666.68 611.25 L671.15 613.25 L675.62 614.5 L680.08 598.5 L684.55 602.5 L689.02 601.5 L693.49 598.75 L697.96 596.5 L702.42 599.25 L706.89 596.5 L711.36 598.5 L715.83 595.5 L720.3 595.5 L724.76 593.5 L729.23 593.25 L733.7 591.25 L738.17 590.25 L742.64 593.25 L747.1 593.5 L751.57 593.5 L756.04 593.5 L760.51 592.5 L764.98 592.5 L769.44 594.5 L773.91 592.5 L778.38 591.25 L782.85 591.25 L787.32 594.5 L791.78 589.5 L796.25 584.25 L800.72 587.5 L805.19 584.25 L809.66 591.25 L814.12 594.5 L818.59 592.25 L823.06 591.25 L827.53 593.5 L832 590.25 L836.46 590.25 L840.93 591.25 L845.4 590.25 L849.87 596.5 L854.34 596.5 L858.8 595.5 L863.27 595.5 L867.74 595.5 L872.21 593.5 L876.68 591.25 L881.14 594.5 L885.61 597.5 L890.08 599.5 L894.55 600.5 L899.02 598.5 L903.48 595.5 L907.95 591.25 L912.42 591.25 L916.89 587.25 L921.36 588.25 L925.82 590.25 L930.29 592.25 L934.76 595.5 L939.23 592.25 L943.7 593.5 L948.16 602.5 L952.63 594.5 L957.1 598.5 L961.57 599.5 L966.04 599.5 L970.5 599.5 L974.97 598.5 L979.44 594.5 L983.91 592.25 L988.38 589.5 L992.84 587.25 L997.31 591.25 L1001.78 590.25 L1006.25 588.25 L1010.72 591.25 L1015.18 588.75 L1019.65 587.25 L1024.12 593.5 L1028.59 598.5 L1033.06 590.25 L1037.52 596.5 L1041.99 598.5 L1046.46 592.25 L1050.93 593.5 L1055.4 596.5 L1059.86 592.5 L1064.33 590.25 L1068.8 591.25 L1073.27 594.5 L1077.74 593.5 L1082.2 592.25 L1086.67 589.5 L1091.14 592.5 L1095.61 591.25 L1100.08 589.5 L1104.54 590.25 L1109.01 588.25 L1113.48 585.5 L1117.95 593.5 L1122.42 599.5 L1126.88 595.5 L1131.35 598.5 L1135.82 595.5 L1140.29 599.5 L1144.76 589.5 L1149.22 587.25 L1153.69 590.25 L1158.16 587.5 L1162.63 591.25 L1167.1 594.5 L1171.56 593.5 L1174 593.5" fill="none" stroke="#9c27b0" stroke-width="1" stroke-linejoin="round"/>
<text x="1184.5" y="120.8">$10.20</text>
<text x="1184.5" y="172.8">$10.00</text>
<text x="1184.5" y="225.8">$9.80</text>
<text x="1184.5" y="277.8">$9.60</text>
<text x="1184.5" y="330.8">$9.40</text>
<text x="1184.5" y="382.8">$9.20</text>
<text x="1184.5" y="434.8">$9.00</text>
<text x="1184.5" y="487.8">$8.80</text>
<text x="1184.5" y="539.8">$8.60</text>
<text x="1186" y="560.2">100</text><text x="1186" y="640">0</text>
<text x="103.5" y="656" text-anchor="middle">Oct 2024</text>
<text x="385.5" y="656" text-anchor="middle">2025</text>
<text x="657.5" y="656" text-anchor="middle">Apr 2025</text>
<text x="934.5" y="656" text-anchor="middle">Jul 2025</text>
<rect x="1175.6" y="175.5" width="36.7" height="23" rx="2.5" fill="#8ab89d"/><text x="1179.6" y="192.3" style="fill:#fff">9.93</text>
<rect x="1175.6" y="580.4" width="43.8" height="22.6" rx="2.5" fill="#8e1496"/><text x="1179" y="597.3" style="fill:#fff">54.23</text>
</svg></div></body></html>
